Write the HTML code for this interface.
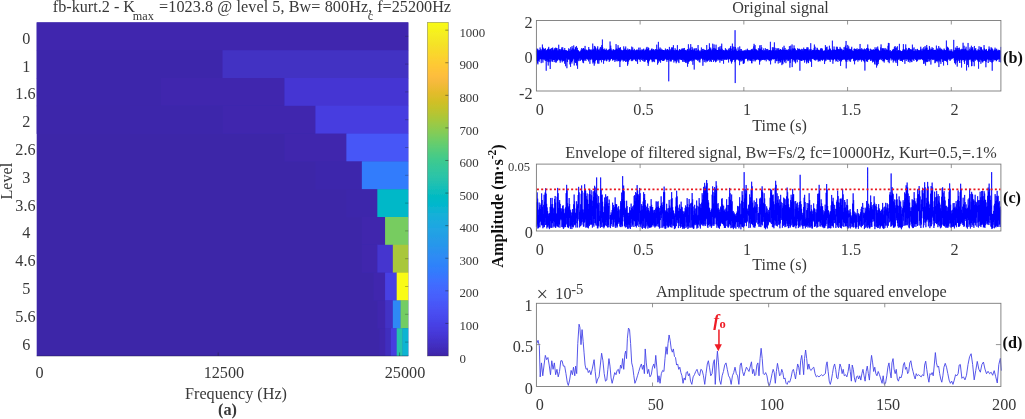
<!DOCTYPE html>
<html lang="en"><head><meta charset="utf-8"><title>Fast kurtogram and envelope analysis</title>
<style>
html,body{margin:0;padding:0;background:#fff;}
body{width:1025px;height:419px;overflow:hidden;font-family:"Liberation Serif", "DejaVu Serif", serif;}
svg{display:block;}
</style></head><body>
<svg width="1025" height="419" viewBox="0 0 1025 419">
<rect width="1025" height="419" fill="#ffffff"/>
<defs><filter id="soft" x="0" y="0" width="100%" height="100%" filterUnits="userSpaceOnUse" primitiveUnits="userSpaceOnUse"><feGaussianBlur stdDeviation="0.4"/></filter></defs>
<g filter="url(#soft)">
<rect width="1025" height="419" fill="#ffffff"/>
<g id="kurtogram">
<rect x="36.7" y="22.4" width="371.6" height="333.6" fill="#3e26a8"/>
<rect x="36.7" y="22.4" width="371.6" height="28.1" fill="#3f28ae"/>
<rect x="36.7" y="50.2" width="186.1" height="28.1" fill="#3e27ab"/>
<rect x="222.5" y="50.2" width="185.8" height="28.1" fill="#4230c3"/>
<rect x="36.7" y="78" width="124.17" height="28.1" fill="#3e27ab"/>
<rect x="160.57" y="78" width="124.17" height="28.1" fill="#3f28ae"/>
<rect x="284.43" y="78" width="123.87" height="28.1" fill="#4536d3"/>
<rect x="36.7" y="105.8" width="93.2" height="28.1" fill="#3e27aa"/>
<rect x="129.6" y="105.8" width="93.2" height="28.1" fill="#3e27ab"/>
<rect x="222.5" y="105.8" width="93.2" height="28.1" fill="#3f28ae"/>
<rect x="315.4" y="105.8" width="92.9" height="28.1" fill="#463de0"/>
<rect x="284.43" y="133.6" width="62.23" height="28.1" fill="#3f28ad"/>
<rect x="346.37" y="133.6" width="61.93" height="28.1" fill="#4757f7"/>
<rect x="315.4" y="161.4" width="46.75" height="28.1" fill="#3e27ac"/>
<rect x="361.85" y="161.4" width="46.45" height="28.1" fill="#327cfc"/>
<rect x="346.37" y="189.2" width="31.27" height="28.1" fill="#3e27ab"/>
<rect x="377.33" y="189.2" width="30.97" height="28.1" fill="#01b8c8"/>
<rect x="361.85" y="217" width="23.53" height="28.1" fill="#3f28ad"/>
<rect x="385.07" y="217" width="23.23" height="28.1" fill="#77cc60"/>
<rect x="361.85" y="244.8" width="15.78" height="28.1" fill="#3f28ad"/>
<rect x="377.33" y="244.8" width="15.78" height="28.1" fill="#4434cf"/>
<rect x="392.82" y="244.8" width="15.48" height="28.1" fill="#a9c73b"/>
<rect x="373.46" y="272.6" width="11.91" height="28.1" fill="#3f28ae"/>
<rect x="385.07" y="272.6" width="11.91" height="28.1" fill="#4740e4"/>
<rect x="396.69" y="272.6" width="11.61" height="28.1" fill="#f9fb15"/>
<rect x="377.33" y="300.4" width="8.04" height="28.1" fill="#3f28ae"/>
<rect x="385.07" y="300.4" width="8.04" height="28.1" fill="#4330c5"/>
<rect x="392.82" y="300.4" width="8.04" height="28.1" fill="#2d89f5"/>
<rect x="400.56" y="300.4" width="7.74" height="28.1" fill="#73cd63"/>
<rect x="379.27" y="328.2" width="6.11" height="27.8" fill="#3f28ae"/>
<rect x="385.07" y="328.2" width="6.11" height="27.8" fill="#412ebe"/>
<rect x="390.88" y="328.2" width="6.11" height="27.8" fill="#463de0"/>
<rect x="396.69" y="328.2" width="6.11" height="27.8" fill="#28c3ab"/>
<rect x="402.49" y="328.2" width="5.81" height="27.8" fill="#0bb4d2"/>
<line x1="405.1" y1="36.3" x2="408.3" y2="36.3" stroke="#222" stroke-opacity="0.4" stroke-width="0.8"/>
<line x1="405.1" y1="64.1" x2="408.3" y2="64.1" stroke="#222" stroke-opacity="0.4" stroke-width="0.8"/>
<line x1="405.1" y1="91.9" x2="408.3" y2="91.9" stroke="#222" stroke-opacity="0.4" stroke-width="0.8"/>
<line x1="405.1" y1="119.7" x2="408.3" y2="119.7" stroke="#222" stroke-opacity="0.4" stroke-width="0.8"/>
<line x1="405.1" y1="147.5" x2="408.3" y2="147.5" stroke="#222" stroke-opacity="0.4" stroke-width="0.8"/>
<line x1="405.1" y1="175.3" x2="408.3" y2="175.3" stroke="#222" stroke-opacity="0.4" stroke-width="0.8"/>
<line x1="405.1" y1="203.1" x2="408.3" y2="203.1" stroke="#222" stroke-opacity="0.4" stroke-width="0.8"/>
<line x1="405.1" y1="230.9" x2="408.3" y2="230.9" stroke="#222" stroke-opacity="0.4" stroke-width="0.8"/>
<line x1="405.1" y1="258.7" x2="408.3" y2="258.7" stroke="#222" stroke-opacity="0.4" stroke-width="0.8"/>
<line x1="405.1" y1="286.5" x2="408.3" y2="286.5" stroke="#222" stroke-opacity="0.4" stroke-width="0.8"/>
<line x1="405.1" y1="314.3" x2="408.3" y2="314.3" stroke="#222" stroke-opacity="0.4" stroke-width="0.8"/>
<line x1="405.1" y1="342.1" x2="408.3" y2="342.1" stroke="#222" stroke-opacity="0.4" stroke-width="0.8"/>
<line x1="218.15" y1="352.5" x2="218.15" y2="356" stroke="#222" stroke-opacity="0.55" stroke-width="0.8"/>
<line x1="399.59" y1="352.5" x2="399.59" y2="356" stroke="#222" stroke-opacity="0.55" stroke-width="0.8"/>
<line x1="36.7" y1="356" x2="408.3" y2="356" stroke="#1a1a40" stroke-opacity="0.5" stroke-width="0.9"/>
</g>
<g font-family='"Liberation Serif", "DejaVu Serif", serif' font-size="16.2" fill="#383838" text-anchor="middle">
<text x="26.2" y="43.8">0</text>
<text x="26.2" y="71.6">1</text>
<text x="25.4" y="99.4">1.6</text>
<text x="26.2" y="127.2">2</text>
<text x="25.4" y="155">2.6</text>
<text x="26.2" y="182.8">3</text>
<text x="25.4" y="210.6">3.6</text>
<text x="26.2" y="238.4">4</text>
<text x="25.4" y="266.2">4.6</text>
<text x="26.2" y="294">5</text>
<text x="25.4" y="321.8">5.6</text>
<text x="26.2" y="349.6">6</text>
<text x="39.6" y="378.3">0</text>
<text x="223.9" y="378.3">12500</text>
<text x="405" y="378.3">25000</text>
<text x="236" y="398.7">Frequency (Hz)</text>
<text x="227.5" y="414.8" font-weight="bold">(a)</text>
<text transform="translate(12.4,181.2) rotate(-90)">Level</text>
</g>
<text x="52.8" y="11.9" font-family='"Liberation Serif", "DejaVu Serif", serif' font-size="16.2" fill="#383838" xml:space="preserve">fb-kurt.2 - K<tspan font-size="12.2" dy="8" dx="-2.3">max</tspan><tspan dy="-8" dx="1.2" letter-spacing="0.07"> =1023.8 @ level 5, Bw= 800Hz,</tspan><tspan font-size="12.2" dx="-4.6" dy="8.3">c</tspan><tspan dy="-8.3" dx="0"> f=25200Hz</tspan></text>
<defs><linearGradient id="pg" x1="0" y1="1" x2="0" y2="0">
<stop offset="0.0000" stop-color="#3e26a8"/>
<stop offset="0.0159" stop-color="#402ab4"/>
<stop offset="0.0317" stop-color="#422ec0"/>
<stop offset="0.0476" stop-color="#4332cb"/>
<stop offset="0.0635" stop-color="#4537d5"/>
<stop offset="0.0794" stop-color="#463cde"/>
<stop offset="0.0952" stop-color="#4741e5"/>
<stop offset="0.1111" stop-color="#4747eb"/>
<stop offset="0.1270" stop-color="#484df0"/>
<stop offset="0.1429" stop-color="#4852f4"/>
<stop offset="0.1587" stop-color="#4758f8"/>
<stop offset="0.1746" stop-color="#465efb"/>
<stop offset="0.1905" stop-color="#4563fd"/>
<stop offset="0.2063" stop-color="#4269fe"/>
<stop offset="0.2222" stop-color="#3e6fff"/>
<stop offset="0.2381" stop-color="#3875fe"/>
<stop offset="0.2540" stop-color="#327cfc"/>
<stop offset="0.2698" stop-color="#2f81fa"/>
<stop offset="0.2857" stop-color="#2e87f7"/>
<stop offset="0.3016" stop-color="#2d8cf3"/>
<stop offset="0.3175" stop-color="#2b91ef"/>
<stop offset="0.3333" stop-color="#2797eb"/>
<stop offset="0.3492" stop-color="#259be8"/>
<stop offset="0.3651" stop-color="#23a0e5"/>
<stop offset="0.3810" stop-color="#20a5e3"/>
<stop offset="0.3968" stop-color="#1ca9df"/>
<stop offset="0.4127" stop-color="#18addb"/>
<stop offset="0.4286" stop-color="#12b1d6"/>
<stop offset="0.4444" stop-color="#08b5d0"/>
<stop offset="0.4603" stop-color="#01b8ca"/>
<stop offset="0.4762" stop-color="#02bac3"/>
<stop offset="0.4921" stop-color="#0bbdbd"/>
<stop offset="0.5079" stop-color="#19bfb6"/>
<stop offset="0.5238" stop-color="#24c1ae"/>
<stop offset="0.5397" stop-color="#2cc4a7"/>
<stop offset="0.5556" stop-color="#31c69f"/>
<stop offset="0.5714" stop-color="#37c897"/>
<stop offset="0.5873" stop-color="#3fca8e"/>
<stop offset="0.6032" stop-color="#4acb84"/>
<stop offset="0.6190" stop-color="#57cc7a"/>
<stop offset="0.6349" stop-color="#64cd6f"/>
<stop offset="0.6508" stop-color="#72cd64"/>
<stop offset="0.6667" stop-color="#81cc59"/>
<stop offset="0.6825" stop-color="#8fcb4e"/>
<stop offset="0.6984" stop-color="#9dc943"/>
<stop offset="0.7143" stop-color="#abc739"/>
<stop offset="0.7302" stop-color="#b9c431"/>
<stop offset="0.7460" stop-color="#c5c22a"/>
<stop offset="0.7619" stop-color="#d1bf27"/>
<stop offset="0.7778" stop-color="#dcbd29"/>
<stop offset="0.7937" stop-color="#e6bb2d"/>
<stop offset="0.8095" stop-color="#f0ba36"/>
<stop offset="0.8254" stop-color="#f8ba3d"/>
<stop offset="0.8413" stop-color="#febe3c"/>
<stop offset="0.8571" stop-color="#fec338"/>
<stop offset="0.8730" stop-color="#fec934"/>
<stop offset="0.8889" stop-color="#fccf30"/>
<stop offset="0.9048" stop-color="#fad62d"/>
<stop offset="0.9206" stop-color="#f7dc2a"/>
<stop offset="0.9365" stop-color="#f5e327"/>
<stop offset="0.9524" stop-color="#f5e924"/>
<stop offset="0.9683" stop-color="#f6ef20"/>
<stop offset="0.9841" stop-color="#f7f51b"/>
<stop offset="1.0000" stop-color="#f9fb15"/>
</linearGradient></defs>
<rect x="427.4" y="22.4" width="20.9" height="333.6" fill="url(#pg)" stroke="#333" stroke-opacity="0.45" stroke-width="0.7"/>
<g font-family='"Liberation Serif", "DejaVu Serif", serif' font-size="12.9" fill="#383838">
<text x="459.4" y="362.6">0</text>
<line x1="445.3" y1="323.42" x2="448.3" y2="323.42" stroke="#222" stroke-opacity="0.6" stroke-width="0.8"/>
<text x="459.4" y="330.02">100</text>
<line x1="445.3" y1="290.83" x2="448.3" y2="290.83" stroke="#222" stroke-opacity="0.6" stroke-width="0.8"/>
<text x="459.4" y="297.43">200</text>
<line x1="445.3" y1="258.25" x2="448.3" y2="258.25" stroke="#222" stroke-opacity="0.6" stroke-width="0.8"/>
<text x="459.4" y="264.85">300</text>
<line x1="445.3" y1="225.66" x2="448.3" y2="225.66" stroke="#222" stroke-opacity="0.6" stroke-width="0.8"/>
<text x="459.4" y="232.26">400</text>
<line x1="445.3" y1="193.08" x2="448.3" y2="193.08" stroke="#222" stroke-opacity="0.6" stroke-width="0.8"/>
<text x="459.4" y="199.68">500</text>
<line x1="445.3" y1="160.49" x2="448.3" y2="160.49" stroke="#222" stroke-opacity="0.6" stroke-width="0.8"/>
<text x="459.4" y="167.09">600</text>
<line x1="445.3" y1="127.91" x2="448.3" y2="127.91" stroke="#222" stroke-opacity="0.6" stroke-width="0.8"/>
<text x="459.4" y="134.51">700</text>
<line x1="445.3" y1="95.32" x2="448.3" y2="95.32" stroke="#222" stroke-opacity="0.6" stroke-width="0.8"/>
<text x="459.4" y="101.92">800</text>
<line x1="445.3" y1="62.74" x2="448.3" y2="62.74" stroke="#222" stroke-opacity="0.6" stroke-width="0.8"/>
<text x="459.4" y="69.34">900</text>
<line x1="445.3" y1="30.16" x2="448.3" y2="30.16" stroke="#222" stroke-opacity="0.6" stroke-width="0.8"/>
<text x="459.4" y="36.76">1000</text>
</g>
<text transform="translate(502.5,206) rotate(-90)" text-anchor="middle" font-family='"Liberation Serif", "DejaVu Serif", serif' font-size="16.2" font-weight="bold" fill="#111">Amplitude (m·s<tspan font-size="11.5" dy="-6.5">-2</tspan><tspan dy="6.5">)</tspan></text>
<g id="panel-b">
<polyline points="536.40,50.69 536.57,60.52 536.73,48.50 536.90,61.53 537.07,49.63 537.23,58.84 537.40,50.84 537.57,63.24 537.73,48.75 537.90,64.37 538.07,49.75 538.23,60.93 538.40,50.93 538.57,60.34 538.73,50.52 538.90,59.59 539.07,50.94 539.23,61.75 539.40,50.13 539.57,59.35 539.73,50.39 539.90,58.52 540.07,47.51 540.23,59.22 540.40,50.85 540.57,58.83 540.73,49.15 540.90,59.01 541.07,51.12 541.23,63.15 541.40,50.71 541.57,58.51 541.73,49.61 541.90,60.28 542.07,50.77 542.23,58.70 542.40,44.54 542.57,58.80 542.73,47.04 542.90,62.63 543.07,50.74 543.23,58.84 543.40,48.32 543.57,59.36 543.73,50.07 543.90,58.93 544.07,49.15 544.23,60.03 544.40,48.97 544.57,58.50 544.73,51.12 544.90,58.24 545.07,48.80 545.23,60.77 545.40,48.22 545.57,58.89 545.73,51.00 545.90,60.98 546.07,50.47 546.23,70.73 546.40,50.36 546.57,59.50 546.73,50.87 546.90,61.09 547.07,50.24 547.23,59.16 547.40,48.95 547.57,60.11 547.73,49.92 547.90,61.95 548.07,49.80 548.23,65.55 548.40,48.27 548.57,61.00 548.73,46.88 548.90,61.01 549.07,50.20 549.23,62.23 549.40,49.64 549.57,58.78 549.73,51.00 549.90,58.65 550.07,48.95 550.23,69.03 550.40,48.83 550.57,58.44 550.73,50.15 550.90,61.84 551.07,50.44 551.23,58.39 551.40,50.91 551.57,58.90 551.73,48.25 551.90,60.55 552.07,47.99 552.23,60.47 552.40,50.08 552.57,61.83 552.73,47.55 552.90,59.73 553.07,49.42 553.23,59.46 553.40,50.51 553.57,59.93 553.73,50.75 553.90,59.94 554.07,50.68 554.23,62.07 554.40,49.50 554.57,59.66 554.73,48.15 554.90,59.73 555.07,49.98 555.23,59.07 555.40,49.58 555.57,62.49 555.73,47.60 555.90,58.92 556.07,48.25 556.23,60.83 556.40,47.99 556.57,62.41 556.73,49.42 556.90,59.89 557.07,48.20 557.23,60.62 557.40,50.72 557.57,60.36 557.73,50.80 557.90,60.15 558.07,50.54 558.23,58.79 558.40,50.80 558.57,58.33 558.73,44.74 558.90,59.42 559.07,50.65 559.23,59.53 559.40,49.05 559.57,59.84 559.73,50.41 559.90,60.52 560.07,49.48 560.23,62.69 560.40,50.79 560.57,60.44 560.73,49.45 560.90,61.00 561.07,50.70 561.23,59.57 561.40,50.44 561.57,59.75 561.73,47.44 561.90,59.07 562.07,49.18 562.23,62.29 562.40,49.75 562.57,59.76 562.73,47.23 562.90,60.93 563.07,50.62 563.23,61.19 563.40,50.55 563.57,58.95 563.73,49.78 563.90,60.93 564.07,50.60 564.23,60.41 564.40,49.98 564.57,63.67 564.73,48.00 564.90,58.72 565.07,51.29 565.23,60.24 565.40,50.21 565.57,66.22 565.73,50.11 565.90,61.67 566.07,50.81 566.23,57.81 566.40,50.25 566.57,58.12 566.73,51.11 566.90,68.23 567.07,50.92 567.23,58.89 567.40,50.92 567.57,62.02 567.73,51.58 567.90,58.92 568.07,51.31 568.23,58.71 568.40,49.85 568.57,58.89 568.73,48.29 568.90,60.00 569.07,51.14 569.23,58.78 569.40,51.16 569.57,59.22 569.73,49.20 569.90,64.38 570.07,51.54 570.23,60.49 570.40,51.21 570.57,66.82 570.73,47.16 570.90,59.18 571.07,49.81 571.23,61.93 571.40,50.51 571.57,62.03 571.73,49.69 571.90,63.53 572.07,46.12 572.23,59.99 572.40,50.42 572.57,61.19 572.73,48.30 572.90,58.31 573.07,48.82 573.23,58.88 573.40,50.11 573.57,58.30 573.73,45.40 573.90,59.50 574.07,49.38 574.23,65.45 574.40,49.57 574.57,59.39 574.73,50.30 574.90,62.19 575.07,50.23 575.23,59.22 575.40,47.39 575.57,63.04 575.73,47.43 575.90,59.41 576.07,50.90 576.23,62.59 576.40,45.99 576.57,65.48 576.73,50.03 576.90,58.85 577.07,50.52 577.23,59.63 577.40,47.83 577.57,68.81 577.73,50.37 577.90,59.26 578.07,50.60 578.23,60.57 578.40,50.48 578.57,58.67 578.73,50.95 578.90,61.19 579.07,51.26 579.23,59.37 579.40,52.01 579.57,57.73 579.73,52.05 579.90,57.86 580.07,51.82 580.23,60.97 580.40,51.89 580.57,58.08 580.73,50.99 580.90,60.06 581.07,49.68 581.23,59.64 581.40,50.49 581.57,59.05 581.73,48.07 581.90,58.80 582.07,50.36 582.23,59.36 582.40,49.17 582.57,61.01 582.73,50.30 582.90,62.58 583.07,48.70 583.23,59.18 583.40,48.06 583.57,63.16 583.73,48.42 583.90,60.44 584.07,50.90 584.23,60.61 584.40,50.16 584.57,59.02 584.73,49.24 584.90,58.67 585.07,45.90 585.23,60.15 585.40,50.38 585.57,58.98 585.73,50.92 585.90,60.91 586.07,49.59 586.23,58.67 586.40,49.90 586.57,57.98 586.73,50.78 586.90,58.88 587.07,50.35 587.23,58.77 587.40,51.46 587.57,58.55 587.73,51.08 587.90,59.92 588.07,49.96 588.23,58.68 588.40,49.54 588.57,61.35 588.73,47.03 588.90,58.66 589.07,51.49 589.23,59.61 589.40,49.50 589.57,58.57 589.73,49.58 589.90,63.84 590.07,50.61 590.23,59.35 590.40,49.71 590.57,59.79 590.73,49.91 590.90,58.67 591.07,51.03 591.23,58.55 591.40,50.93 591.57,58.36 591.73,49.52 591.90,59.27 592.07,50.67 592.23,60.16 592.40,50.20 592.57,59.12 592.73,43.59 592.90,63.48 593.07,50.26 593.23,62.01 593.40,49.69 593.57,59.72 593.73,49.60 593.90,62.44 594.07,48.59 594.23,65.67 594.40,45.95 594.57,61.48 594.73,51.41 594.90,63.54 595.07,50.14 595.23,58.89 595.40,46.65 595.57,60.84 595.73,48.37 595.90,59.65 596.07,48.85 596.23,60.05 596.40,50.97 596.57,59.15 596.73,50.62 596.90,59.80 597.07,50.32 597.23,59.37 597.40,47.80 597.57,62.68 597.73,46.30 597.90,63.78 598.07,49.31 598.23,59.76 598.40,49.90 598.57,59.33 598.73,50.31 598.90,63.67 599.07,50.30 599.23,60.42 599.40,50.84 599.57,59.48 599.73,48.61 599.90,60.02 600.07,51.34 600.23,59.28 600.40,46.95 600.57,60.22 600.73,50.71 600.90,59.68 601.07,47.68 601.23,59.58 601.40,50.50 601.57,62.31 601.73,45.17 601.90,59.00 602.07,48.77 602.23,59.06 602.40,39.53 602.57,59.81 602.73,47.42 602.90,59.97 603.07,49.48 603.23,59.90 603.40,49.33 603.57,63.69 603.73,49.82 603.90,59.48 604.07,49.96 604.23,58.78 604.40,50.25 604.57,60.33 604.73,48.57 604.90,60.52 605.07,49.78 605.23,59.34 605.40,50.36 605.57,58.93 605.73,50.14 605.90,58.85 606.07,51.43 606.23,60.49 606.40,48.75 606.57,61.27 606.73,51.51 606.90,60.70 607.07,49.98 607.23,58.61 607.40,50.75 607.57,59.11 607.73,51.06 607.90,59.47 608.07,50.45 608.23,59.36 608.40,49.57 608.57,59.13 608.73,50.44 608.90,59.47 609.07,50.02 609.23,61.92 609.40,49.23 609.57,59.55 609.73,48.88 609.90,60.94 610.07,41.50 610.23,59.05 610.40,49.22 610.57,59.74 610.73,45.63 610.90,58.30 611.07,48.53 611.23,58.39 611.40,50.26 611.57,58.90 611.73,50.58 611.90,58.53 612.07,51.27 612.23,58.81 612.40,51.08 612.57,60.48 612.73,50.50 612.90,60.30 613.07,49.39 613.23,59.45 613.40,50.22 613.57,59.12 613.73,49.26 613.90,59.67 614.07,50.60 614.23,59.23 614.40,50.39 614.57,59.59 614.73,50.25 614.90,61.97 615.07,50.83 615.23,59.85 615.40,50.28 615.57,58.99 615.73,49.59 615.90,60.67 616.07,44.09 616.23,58.80 616.40,48.63 616.57,59.06 616.73,51.05 616.90,61.28 617.07,48.79 617.23,59.37 617.40,49.54 617.57,59.36 617.73,49.51 617.90,61.26 618.07,45.20 618.23,59.70 618.40,47.84 618.57,61.02 618.73,50.20 618.90,60.74 619.07,49.64 619.23,59.79 619.40,47.95 619.57,60.52 619.73,48.63 619.90,67.06 620.07,47.87 620.23,61.78 620.40,47.15 620.57,60.98 620.73,51.03 620.90,59.28 621.07,50.60 621.23,59.09 621.40,49.76 621.57,59.29 621.73,50.73 621.90,60.45 622.07,50.80 622.23,59.34 622.40,50.29 622.57,59.61 622.73,51.10 622.90,58.94 623.07,50.96 623.23,61.50 623.40,50.09 623.57,60.29 623.73,46.38 623.90,59.62 624.07,50.17 624.23,59.64 624.40,49.43 624.57,60.91 624.73,50.43 624.90,59.44 625.07,48.34 625.23,59.22 625.40,50.82 625.57,61.96 625.73,46.52 625.90,59.26 626.07,49.70 626.23,58.67 626.40,50.15 626.57,61.52 626.73,50.85 626.90,59.41 627.07,50.03 627.23,60.50 627.40,50.74 627.57,65.75 627.73,48.57 627.90,64.29 628.07,50.56 628.23,59.41 628.40,50.60 628.57,61.61 628.73,50.03 628.90,59.50 629.07,49.14 629.23,60.29 629.40,50.89 629.57,59.56 629.73,49.21 629.90,59.21 630.07,50.30 630.23,58.81 630.40,50.95 630.57,58.89 630.73,50.62 630.90,58.96 631.07,49.54 631.23,60.62 631.40,50.55 631.57,59.09 631.73,46.62 631.90,61.20 632.07,50.47 632.23,60.39 632.40,50.42 632.57,60.19 632.73,47.38 632.90,60.37 633.07,49.84 633.23,59.34 633.40,50.30 633.57,59.11 633.73,50.70 633.90,59.18 634.07,50.94 634.23,58.84 634.40,48.90 634.57,59.39 634.73,50.24 634.90,58.57 635.07,50.85 635.23,59.83 635.40,50.62 635.57,60.98 635.73,50.99 635.90,58.86 636.07,50.38 636.23,61.41 636.40,50.00 636.57,58.73 636.73,49.56 636.90,58.79 637.07,50.91 637.23,61.20 637.40,50.35 637.57,63.86 637.73,49.69 637.90,59.01 638.07,51.28 638.23,59.19 638.40,49.97 638.57,58.88 638.73,47.68 638.90,58.89 639.07,50.43 639.23,59.90 639.40,51.04 639.57,59.00 639.73,50.39 639.90,59.61 640.07,47.58 640.23,61.72 640.40,50.18 640.57,58.65 640.73,50.83 640.90,58.64 641.07,50.94 641.23,58.11 641.40,51.47 641.57,59.99 641.73,49.55 641.90,58.20 642.07,50.40 642.23,58.49 642.40,49.75 642.57,60.73 642.73,49.85 642.90,58.74 643.07,51.32 643.23,59.42 643.40,49.40 643.57,58.97 643.73,48.67 643.90,61.18 644.07,50.89 644.23,61.86 644.40,51.21 644.57,59.88 644.73,50.68 644.90,58.78 645.07,49.76 645.23,61.46 645.40,50.76 645.57,59.83 645.73,49.56 645.90,58.97 646.07,50.27 646.23,59.25 646.40,47.69 646.57,59.98 646.73,50.45 646.90,59.70 647.07,46.88 647.23,59.93 647.40,49.44 647.57,62.63 647.73,49.43 647.90,60.21 648.07,49.17 648.23,65.86 648.40,47.59 648.57,63.51 648.73,48.01 648.90,60.01 649.07,50.61 649.23,61.23 649.40,51.45 649.57,59.95 649.73,50.46 649.90,58.71 650.07,51.70 650.23,59.29 650.40,50.35 650.57,58.91 650.73,51.25 650.90,59.04 651.07,50.34 651.23,59.88 651.40,49.07 651.57,58.91 651.73,48.72 651.90,60.34 652.07,48.68 652.23,62.16 652.40,50.33 652.57,61.07 652.73,50.79 652.90,61.31 653.07,50.01 653.23,59.17 653.40,49.83 653.57,61.46 653.73,48.99 653.90,58.46 654.07,51.48 654.23,59.39 654.40,51.39 654.57,62.12 654.73,49.98 654.90,58.03 655.07,50.50 655.23,58.20 655.40,51.61 655.57,59.02 655.73,49.02 655.90,59.33 656.07,49.45 656.23,59.29 656.40,51.06 656.57,58.97 656.73,44.69 656.90,58.74 657.07,50.12 657.23,59.11 657.40,49.47 657.57,64.65 657.73,50.57 657.90,60.51 658.07,51.02 658.23,63.16 658.40,41.86 658.57,60.06 658.73,50.30 658.90,59.19 659.07,50.53 659.23,61.52 659.40,48.91 659.57,59.83 659.73,50.36 659.90,60.83 660.07,47.53 660.23,59.86 660.40,49.95 660.57,62.69 660.73,49.99 660.90,60.05 661.07,48.62 661.23,59.94 661.40,50.04 661.57,59.51 661.73,50.65 661.90,60.27 662.07,49.40 662.23,58.95 662.40,50.36 662.57,60.95 662.73,50.43 662.90,59.07 663.07,50.03 663.23,60.61 663.40,50.18 663.57,60.63 663.73,50.21 663.90,60.97 664.07,50.36 664.23,60.00 664.40,50.53 664.57,59.09 664.73,50.83 664.90,59.79 665.07,50.84 665.23,58.57 665.40,48.56 665.57,58.62 665.73,49.70 665.90,58.70 666.07,50.71 666.23,58.57 666.40,50.34 666.57,59.90 666.73,50.49 666.90,61.81 667.07,49.44 667.23,59.55 667.40,48.99 667.57,59.19 667.73,49.39 667.90,59.96 668.07,50.14 668.23,60.09 668.40,49.92 668.57,59.91 668.73,81.31 668.90,63.46 669.07,50.85 669.23,59.11 669.40,46.92 669.57,58.91 669.73,51.13 669.90,60.48 670.07,50.37 670.23,61.45 670.40,49.75 670.57,60.18 670.73,51.10 670.90,60.98 671.07,48.82 671.23,61.51 671.40,50.15 671.57,58.78 671.73,47.64 671.90,59.84 672.07,47.30 672.23,58.71 672.40,47.83 672.57,59.17 672.73,50.66 672.90,59.65 673.07,50.33 673.23,60.01 673.40,45.16 673.57,58.81 673.73,50.54 673.90,62.49 674.07,50.06 674.23,60.50 674.40,50.53 674.57,59.81 674.73,50.90 674.90,60.39 675.07,48.22 675.23,61.32 675.40,51.12 675.57,60.76 675.73,49.64 675.90,60.12 676.07,50.38 676.23,63.28 676.40,50.10 676.57,61.90 676.73,50.63 676.90,59.78 677.07,49.78 677.23,59.28 677.40,45.15 677.57,60.41 677.73,50.13 677.90,58.48 678.07,50.34 678.23,61.84 678.40,51.10 678.57,59.55 678.73,51.16 678.90,63.09 679.07,51.31 679.23,58.59 679.40,49.52 679.57,59.21 679.73,49.03 679.90,59.03 680.07,50.03 680.23,59.78 680.40,50.79 680.57,59.00 680.73,50.10 680.90,59.52 681.07,50.17 681.23,59.27 681.40,49.33 681.57,60.00 681.73,50.36 681.90,60.11 682.07,48.36 682.23,59.14 682.40,49.61 682.57,61.75 682.73,48.72 682.90,59.45 683.07,49.79 683.23,59.41 683.40,49.32 683.57,59.32 683.73,48.30 683.90,61.71 684.07,50.37 684.23,61.87 684.40,47.97 684.57,59.46 684.73,50.73 684.90,59.58 685.07,50.75 685.23,60.02 685.40,50.63 685.57,62.60 685.73,49.88 685.90,62.47 686.07,50.66 686.23,61.41 686.40,50.85 686.57,59.09 686.73,50.85 686.90,63.10 687.07,50.46 687.23,59.20 687.40,49.17 687.57,66.71 687.73,49.40 687.90,59.24 688.07,50.70 688.23,63.74 688.40,44.27 688.57,61.67 688.73,50.42 688.90,58.81 689.07,50.94 689.23,61.64 689.40,51.12 689.57,60.84 689.73,49.13 689.90,59.86 690.07,47.80 690.23,58.75 690.40,49.72 690.57,60.78 690.73,44.13 690.90,60.30 691.07,50.46 691.23,59.84 691.40,50.35 691.57,59.84 691.73,49.99 691.90,61.44 692.07,46.90 692.23,60.55 692.40,50.08 692.57,59.01 692.73,48.58 692.90,64.75 693.07,51.05 693.23,59.74 693.40,50.56 693.57,60.39 693.73,50.02 693.90,60.44 694.07,48.67 694.23,69.56 694.40,49.95 694.57,59.20 694.73,49.08 694.90,58.99 695.07,48.13 695.23,59.45 695.40,50.89 695.57,59.12 695.73,51.18 695.90,58.93 696.07,51.06 696.23,59.57 696.40,48.21 696.57,59.57 696.73,51.05 696.90,59.34 697.07,51.39 697.23,58.60 697.40,50.54 697.57,60.23 697.73,50.55 697.90,60.79 698.07,45.04 698.23,58.92 698.40,49.39 698.57,59.85 698.73,50.78 698.90,59.33 699.07,50.40 699.23,62.12 699.40,51.43 699.57,58.60 699.73,51.88 699.90,62.46 700.07,51.31 700.23,59.64 700.40,51.66 700.57,58.64 700.73,51.75 700.90,57.91 701.07,49.93 701.23,58.44 701.40,47.50 701.57,57.90 701.73,51.32 701.90,58.72 702.07,50.77 702.23,58.32 702.40,51.27 702.57,60.28 702.73,49.06 702.90,65.76 703.07,48.89 703.23,58.55 703.40,50.76 703.57,59.02 703.73,51.15 703.90,59.78 704.07,49.62 704.23,62.07 704.40,50.60 704.57,59.82 704.73,49.84 704.90,59.82 705.07,50.25 705.23,60.50 705.40,50.13 705.57,59.18 705.73,51.21 705.90,62.45 706.07,50.08 706.23,59.27 706.40,50.81 706.57,59.67 706.73,45.05 706.90,61.05 707.07,50.15 707.23,61.69 707.40,50.27 707.57,60.37 707.73,50.00 707.90,60.96 708.07,49.55 708.23,60.07 708.40,50.01 708.57,59.77 708.73,49.31 708.90,60.28 709.07,49.69 709.23,59.46 709.40,43.33 709.57,59.40 709.73,47.38 709.90,61.99 710.07,51.34 710.23,60.12 710.40,48.94 710.57,60.87 710.73,47.73 710.90,59.02 711.07,50.62 711.23,58.76 711.40,51.19 711.57,62.00 711.73,49.66 711.90,59.19 712.07,50.89 712.23,58.59 712.40,49.33 712.57,59.77 712.73,43.70 712.90,59.96 713.07,49.40 713.23,58.89 713.40,48.13 713.57,61.99 713.73,50.31 713.90,58.90 714.07,44.42 714.23,60.40 714.40,50.14 714.57,60.18 714.73,48.12 714.90,59.64 715.07,49.22 715.23,60.66 715.40,50.54 715.57,62.22 715.73,48.74 715.90,60.52 716.07,44.69 716.23,61.64 716.40,49.90 716.57,60.23 716.73,50.54 716.90,59.17 717.07,50.49 717.23,58.73 717.40,50.21 717.57,58.81 717.73,50.19 717.90,60.61 718.07,50.49 718.23,59.64 718.40,47.29 718.57,59.21 718.73,49.71 718.90,58.95 719.07,50.24 719.23,59.96 719.40,50.54 719.57,59.32 719.73,46.64 719.90,62.61 720.07,48.71 720.23,59.31 720.40,49.95 720.57,59.38 720.73,50.65 720.90,59.85 721.07,45.94 721.23,61.01 721.40,50.19 721.57,59.43 721.73,43.67 721.90,59.16 722.07,48.79 722.23,60.76 722.40,49.89 722.57,59.17 722.73,51.26 722.90,58.75 723.07,51.48 723.23,58.70 723.40,49.95 723.57,63.73 723.73,50.35 723.90,58.64 724.07,50.54 724.23,58.51 724.40,51.21 724.57,59.74 724.73,50.58 724.90,59.11 725.07,50.92 725.23,59.86 725.40,48.16 725.57,58.68 725.73,49.86 725.90,58.80 726.07,49.25 726.23,59.54 726.40,50.00 726.57,59.42 726.73,50.22 726.90,59.90 727.07,50.79 727.23,58.50 727.40,50.30 727.57,58.50 727.73,51.28 727.90,58.32 728.07,51.15 728.23,59.26 728.40,48.70 728.57,62.48 728.73,50.56 728.90,59.25 729.07,49.93 729.23,59.08 729.40,50.20 729.57,58.87 729.73,48.22 729.90,58.78 730.07,50.75 730.23,59.35 730.40,47.34 730.57,60.88 730.73,45.96 730.90,58.94 731.07,51.14 731.23,62.11 731.40,51.13 731.57,63.49 731.73,48.67 731.90,58.69 732.07,50.64 732.23,61.76 732.40,43.64 732.57,60.42 732.73,50.47 732.90,59.48 733.07,46.66 733.23,59.39 733.40,50.41 733.57,59.76 733.73,50.72 733.90,59.22 734.07,46.81 734.23,60.07 734.40,50.42 734.57,59.10 734.73,49.67 734.90,62.19 735.07,30.19 735.23,83.07 735.40,47.04 735.57,60.88 735.73,49.89 735.90,58.77 736.07,48.65 736.23,59.69 736.40,50.62 736.57,59.08 736.73,50.93 736.90,59.19 737.07,51.11 737.23,59.30 737.40,51.11 737.57,59.36 737.73,51.19 737.90,59.16 738.07,47.39 738.23,58.40 738.40,50.86 738.57,59.84 738.73,49.64 738.90,60.51 739.07,50.33 739.23,60.45 739.40,50.54 739.57,65.18 739.73,46.43 739.90,59.63 740.07,51.20 740.23,59.74 740.40,51.41 740.57,59.60 740.73,49.16 740.90,61.61 741.07,51.33 741.23,60.82 741.40,49.11 741.57,59.15 741.73,51.61 741.90,58.84 742.07,51.62 742.23,60.52 742.40,50.62 742.57,60.22 742.73,51.31 742.90,58.54 743.07,51.33 743.23,63.77 743.40,50.61 743.57,63.67 743.73,50.93 743.90,61.56 744.07,51.20 744.23,63.25 744.40,50.52 744.57,58.97 744.73,50.55 744.90,59.31 745.07,50.75 745.23,58.48 745.40,50.52 745.57,58.70 745.73,50.98 745.90,58.59 746.07,49.60 746.23,58.44 746.40,51.92 746.57,58.18 746.73,50.98 746.90,58.76 747.07,50.17 747.23,58.44 747.40,48.73 747.57,60.22 747.73,49.78 747.90,61.28 748.07,50.36 748.23,59.83 748.40,50.30 748.57,59.13 748.73,50.74 748.90,59.12 749.07,51.09 749.23,59.22 749.40,50.24 749.57,59.50 749.73,51.42 749.90,60.79 750.07,49.95 750.23,59.64 750.40,51.40 750.57,60.38 750.73,50.18 750.90,60.84 751.07,50.58 751.23,59.24 751.40,49.10 751.57,63.09 751.73,50.12 751.90,63.31 752.07,50.80 752.23,60.76 752.40,48.76 752.57,58.61 752.73,49.99 752.90,58.78 753.07,51.27 753.23,59.34 753.40,50.84 753.57,58.92 753.73,46.45 753.90,61.25 754.07,43.83 754.23,59.12 754.40,49.43 754.57,59.57 754.73,48.66 754.90,59.47 755.07,45.10 755.23,61.37 755.40,49.77 755.57,60.07 755.73,49.14 755.90,60.13 756.07,49.82 756.23,59.09 756.40,49.60 756.57,59.66 756.73,49.98 756.90,58.49 757.07,50.07 757.23,59.38 757.40,51.53 757.57,59.32 757.73,51.14 757.90,58.79 758.07,51.43 758.23,58.04 758.40,48.28 758.57,60.08 758.73,50.96 758.90,58.97 759.07,50.77 759.23,59.34 759.40,48.75 759.57,64.55 759.73,45.37 759.90,61.87 760.07,50.39 760.23,59.50 760.40,49.16 760.57,59.83 760.73,48.68 760.90,60.93 761.07,45.04 761.23,59.52 761.40,50.12 761.57,59.81 761.73,47.35 761.90,59.40 762.07,49.91 762.23,59.59 762.40,50.38 762.57,59.85 762.73,50.74 762.90,59.35 763.07,51.07 763.23,59.23 763.40,50.81 763.57,59.77 763.73,48.46 763.90,58.80 764.07,51.13 764.23,59.11 764.40,50.51 764.57,60.19 764.73,50.43 764.90,59.53 765.07,50.74 765.23,59.04 765.40,48.21 765.57,59.75 765.73,50.91 765.90,59.08 766.07,50.61 766.23,61.33 766.40,49.26 766.57,58.64 766.73,50.69 766.90,59.00 767.07,49.05 767.23,59.06 767.40,51.11 767.57,59.62 767.73,48.94 767.90,59.00 768.07,50.77 768.23,58.43 768.40,50.61 768.57,59.90 768.73,51.10 768.90,59.74 769.07,50.08 769.23,61.15 769.40,50.06 769.57,60.57 769.73,50.28 769.90,59.86 770.07,50.62 770.23,59.20 770.40,41.82 770.57,64.37 770.73,50.20 770.90,59.74 771.07,50.76 771.23,58.60 771.40,51.33 771.57,60.43 771.73,51.27 771.90,59.63 772.07,50.20 772.23,58.52 772.40,47.28 772.57,58.83 772.73,50.07 772.90,58.99 773.07,49.92 773.23,58.80 773.40,47.38 773.57,59.28 773.73,50.50 773.90,59.33 774.07,50.34 774.23,58.98 774.40,42.39 774.57,59.02 774.73,51.17 774.90,58.38 775.07,47.82 775.23,63.21 775.40,51.20 775.57,59.20 775.73,50.06 775.90,60.77 776.07,50.58 776.23,58.93 776.40,51.29 776.57,61.17 776.73,48.36 776.90,58.31 777.07,50.20 777.23,60.85 777.40,51.60 777.57,58.41 777.73,48.39 777.90,58.28 778.07,49.54 778.23,63.54 778.40,51.38 778.57,60.96 778.73,48.23 778.90,60.83 779.07,50.11 779.23,60.62 779.40,50.23 779.57,60.08 779.73,50.22 779.90,62.86 780.07,49.57 780.23,60.70 780.40,48.99 780.57,62.08 780.73,49.65 780.90,59.54 781.07,49.72 781.23,60.07 781.40,50.09 781.57,59.68 781.73,50.53 781.90,65.13 782.07,49.99 782.23,61.83 782.40,49.92 782.57,63.22 782.73,47.37 782.90,64.15 783.07,49.55 783.23,59.43 783.40,49.77 783.57,59.52 783.73,50.65 783.90,60.52 784.07,45.77 784.23,59.46 784.40,50.88 784.57,62.26 784.73,49.86 784.90,59.72 785.07,47.95 785.23,60.87 785.40,50.04 785.57,58.77 785.73,50.07 785.90,63.17 786.07,50.44 786.23,59.27 786.40,49.82 786.57,58.69 786.73,49.88 786.90,60.03 787.07,49.77 787.23,59.21 787.40,50.32 787.57,59.27 787.73,50.71 787.90,61.17 788.07,51.02 788.23,58.52 788.40,49.36 788.57,60.58 788.73,51.20 788.90,60.24 789.07,49.47 789.23,59.37 789.40,46.13 789.57,59.51 789.73,51.22 789.90,67.64 790.07,49.68 790.23,62.92 790.40,50.36 790.57,59.55 790.73,45.68 790.90,58.96 791.07,49.34 791.23,59.01 791.40,51.06 791.57,58.74 791.73,50.56 791.90,58.79 792.07,44.45 792.23,67.10 792.40,48.44 792.57,58.96 792.73,50.66 792.90,61.50 793.07,51.01 793.23,60.04 793.40,49.23 793.57,59.33 793.73,48.55 793.90,59.24 794.07,45.42 794.23,58.98 794.40,48.01 794.57,61.45 794.73,49.23 794.90,60.12 795.07,50.53 795.23,62.27 795.40,48.70 795.57,63.34 795.73,51.30 795.90,58.69 796.07,50.10 796.23,60.16 796.40,50.94 796.57,58.46 796.73,50.60 796.90,58.99 797.07,50.35 797.23,62.18 797.40,51.34 797.57,58.67 797.73,48.18 797.90,58.30 798.07,49.25 798.23,59.37 798.40,50.42 798.57,59.57 798.73,49.03 798.90,59.14 799.07,50.70 799.23,59.46 799.40,48.76 799.57,59.98 799.73,49.44 799.90,70.73 800.07,49.78 800.23,59.80 800.40,50.31 800.57,60.25 800.73,49.93 800.90,60.78 801.07,49.76 801.23,59.58 801.40,51.07 801.57,60.98 801.73,48.84 801.90,60.84 802.07,49.95 802.23,60.18 802.40,51.39 802.57,58.53 802.73,49.11 802.90,58.77 803.07,50.55 803.23,60.33 803.40,51.37 803.57,59.95 803.73,47.65 803.90,58.57 804.07,49.69 804.23,59.76 804.40,49.71 804.57,62.57 804.73,49.24 804.90,59.17 805.07,49.26 805.23,59.80 805.40,49.09 805.57,59.29 805.73,50.40 805.90,59.63 806.07,49.84 806.23,61.45 806.40,49.49 806.57,63.49 806.73,48.54 806.90,60.37 807.07,47.04 807.23,61.81 807.40,49.81 807.57,59.88 807.73,48.76 807.90,58.97 808.07,47.44 808.23,63.13 808.40,49.90 808.57,62.80 808.73,51.49 808.90,60.94 809.07,51.35 809.23,59.67 809.40,51.22 809.57,59.16 809.73,49.49 809.90,58.59 810.07,49.71 810.23,60.57 810.40,49.60 810.57,61.69 810.73,43.22 810.90,58.94 811.07,49.19 811.23,58.72 811.40,51.35 811.57,66.88 811.73,51.28 811.90,59.10 812.07,50.22 812.23,58.57 812.40,49.90 812.57,58.78 812.73,51.42 812.90,58.16 813.07,51.82 813.23,58.16 813.40,50.03 813.57,59.27 813.73,50.26 813.90,58.51 814.07,48.34 814.23,59.52 814.40,44.56 814.57,59.90 814.73,50.38 814.90,59.94 815.07,46.71 815.23,60.65 815.40,50.76 815.57,59.26 815.73,50.04 815.90,59.14 816.07,50.61 816.23,60.17 816.40,49.90 816.57,58.94 816.73,50.99 816.90,58.69 817.07,47.77 817.23,59.40 817.40,48.44 817.57,59.07 817.73,50.64 817.90,59.74 818.07,50.98 818.23,61.64 818.40,49.86 818.57,60.26 818.73,49.87 818.90,59.57 819.07,50.36 819.23,61.13 819.40,51.38 819.57,60.36 819.73,50.30 819.90,58.33 820.07,51.13 820.23,61.31 820.40,49.44 820.57,59.24 820.73,48.36 820.90,59.90 821.07,49.12 821.23,58.90 821.40,48.23 821.57,59.20 821.73,50.42 821.90,60.14 822.07,50.44 822.23,59.55 822.40,48.63 822.57,60.72 822.73,50.76 822.90,59.79 823.07,51.02 823.23,59.54 823.40,50.94 823.57,58.81 823.73,50.91 823.90,58.56 824.07,50.67 824.23,59.03 824.40,50.84 824.57,64.02 824.73,50.59 824.90,59.44 825.07,51.24 825.23,61.27 825.40,45.15 825.57,59.91 825.73,48.43 825.90,58.67 826.07,51.16 826.23,60.47 826.40,47.19 826.57,58.33 826.73,51.27 826.90,58.36 827.07,46.67 827.23,58.78 827.40,51.68 827.57,59.74 827.73,49.78 827.90,58.03 828.07,49.75 828.23,58.48 828.40,50.24 828.57,59.46 828.73,49.77 828.90,59.80 829.07,50.86 829.23,59.06 829.40,45.73 829.57,59.67 829.73,48.78 829.90,60.15 830.07,49.86 830.23,61.92 830.40,48.71 830.57,59.33 830.73,50.69 830.90,59.09 831.07,50.06 831.23,58.78 831.40,51.33 831.57,58.57 831.73,50.95 831.90,60.03 832.07,50.18 832.23,58.76 832.40,40.65 832.57,59.74 832.73,49.51 832.90,63.73 833.07,50.39 833.23,59.64 833.40,49.93 833.57,60.36 833.73,49.61 833.90,59.15 834.07,46.51 834.23,58.76 834.40,50.15 834.57,58.98 834.73,49.50 834.90,59.12 835.07,50.72 835.23,59.56 835.40,50.20 835.57,59.22 835.73,49.95 835.90,61.50 836.07,50.24 836.23,60.04 836.40,46.77 836.57,60.94 836.73,50.28 836.90,59.53 837.07,48.79 837.23,58.80 837.40,46.83 837.57,58.47 837.73,48.87 837.90,61.94 838.07,49.63 838.23,58.61 838.40,49.02 838.57,59.74 838.73,50.23 838.90,59.47 839.07,50.74 839.23,58.88 839.40,49.36 839.57,61.08 839.73,49.57 839.90,58.99 840.07,46.91 840.23,59.78 840.40,48.57 840.57,65.90 840.73,50.99 840.90,58.96 841.07,48.71 841.23,60.54 841.40,49.86 841.57,61.40 841.73,48.89 841.90,58.99 842.07,49.71 842.23,59.87 842.40,50.80 842.57,59.75 842.73,51.00 842.90,59.03 843.07,50.50 843.23,58.83 843.40,49.99 843.57,58.74 843.73,50.81 843.90,59.93 844.07,47.20 844.23,58.66 844.40,50.28 844.57,59.30 844.73,51.03 844.90,59.03 845.07,47.37 845.23,59.05 845.40,45.62 845.57,60.20 845.73,50.38 845.90,61.53 846.07,40.96 846.23,68.38 846.40,50.11 846.57,59.32 846.73,48.03 846.90,61.82 847.07,50.30 847.23,59.29 847.40,48.53 847.57,59.60 847.73,44.91 847.90,59.68 848.07,50.00 848.23,59.70 848.40,50.45 848.57,59.09 848.73,46.35 848.90,58.95 849.07,49.13 849.23,61.34 849.40,48.74 849.57,59.36 849.73,50.11 849.90,60.14 850.07,49.69 850.23,59.40 850.40,50.62 850.57,61.77 850.73,49.01 850.90,59.07 851.07,50.87 851.23,59.38 851.40,48.53 851.57,58.95 851.73,46.80 851.90,58.54 852.07,50.10 852.23,58.26 852.40,50.92 852.57,58.18 852.73,51.21 852.90,58.27 853.07,51.66 853.23,58.99 853.40,50.93 853.57,61.14 853.73,51.15 853.90,59.36 854.07,48.94 854.23,59.19 854.40,48.55 854.57,64.29 854.73,49.27 854.90,61.05 855.07,48.92 855.23,60.31 855.40,50.47 855.57,59.39 855.73,49.35 855.90,60.33 856.07,49.15 856.23,59.17 856.40,49.98 856.57,59.53 856.73,49.78 856.90,59.98 857.07,48.29 857.23,59.33 857.40,49.85 857.57,58.91 857.73,50.73 857.90,61.62 858.07,50.98 858.23,59.91 858.40,49.80 858.57,60.05 858.73,49.04 858.90,58.97 859.07,48.86 859.23,60.22 859.40,50.67 859.57,59.20 859.73,49.40 859.90,60.24 860.07,43.97 860.23,59.02 860.40,49.64 860.57,59.32 860.73,49.50 860.90,59.35 861.07,49.94 861.23,59.15 861.40,50.36 861.57,61.58 861.73,48.12 861.90,59.93 862.07,49.37 862.23,59.89 862.40,49.76 862.57,59.44 862.73,49.82 862.90,59.14 863.07,50.62 863.23,60.52 863.40,49.65 863.57,60.21 863.73,50.32 863.90,61.36 864.07,49.56 864.23,60.34 864.40,48.56 864.57,62.42 864.73,49.94 864.90,70.57 865.07,49.79 865.23,59.42 865.40,49.47 865.57,59.07 865.73,49.44 865.90,58.67 866.07,51.17 866.23,61.35 866.40,50.84 866.57,61.20 866.73,48.07 866.90,60.55 867.07,48.11 867.23,59.30 867.40,48.97 867.57,61.95 867.73,44.51 867.90,59.40 868.07,50.17 868.23,59.50 868.40,48.52 868.57,59.52 868.73,49.09 868.90,58.92 869.07,50.78 869.23,59.39 869.40,51.01 869.57,58.80 869.73,51.30 869.90,58.63 870.07,51.10 870.23,59.57 870.40,48.73 870.57,60.92 870.73,50.86 870.90,59.16 871.07,49.71 871.23,60.58 871.40,49.85 871.57,59.28 871.73,50.65 871.90,59.17 872.07,49.65 872.23,60.30 872.40,50.11 872.57,62.39 872.73,50.47 872.90,59.50 873.07,49.98 873.23,60.90 873.40,49.25 873.57,61.72 873.73,50.02 873.90,59.51 874.07,50.22 874.23,59.46 874.40,50.58 874.57,63.64 874.73,49.88 874.90,64.52 875.07,47.30 875.23,59.98 875.40,49.10 875.57,60.00 875.73,49.08 875.90,61.35 876.07,49.22 876.23,64.55 876.40,49.08 876.57,67.54 876.73,47.44 876.90,61.40 877.07,49.08 877.23,60.02 877.40,49.19 877.57,65.40 877.73,46.54 877.90,62.03 878.07,48.81 878.23,64.01 878.40,50.22 878.57,61.07 878.73,50.36 878.90,59.04 879.07,50.37 879.23,59.70 879.40,51.31 879.57,58.46 879.73,51.62 879.90,59.53 880.07,51.40 880.23,59.41 880.40,51.07 880.57,58.43 880.73,47.49 880.90,58.09 881.07,44.41 881.23,58.08 881.40,50.86 881.57,60.13 881.73,50.30 881.90,58.52 882.07,48.36 882.23,59.06 882.40,48.55 882.57,58.91 882.73,50.40 882.90,61.04 883.07,48.28 883.23,61.48 883.40,50.44 883.57,60.65 883.73,48.47 883.90,60.09 884.07,49.83 884.23,62.56 884.40,49.59 884.57,60.57 884.73,50.54 884.90,59.55 885.07,47.98 885.23,58.48 885.40,50.23 885.57,59.03 885.73,51.02 885.90,59.05 886.07,48.70 886.23,58.90 886.40,49.78 886.57,59.97 886.73,50.47 886.90,58.90 887.07,49.81 887.23,60.02 887.40,50.65 887.57,59.99 887.73,49.85 887.90,59.79 888.07,45.79 888.23,62.09 888.40,42.92 888.57,58.81 888.73,51.10 888.90,59.27 889.07,43.15 889.23,63.18 889.40,50.53 889.57,60.07 889.73,51.03 889.90,58.60 890.07,51.84 890.23,57.86 890.40,50.13 890.57,58.21 890.73,51.98 890.90,57.75 891.07,52.05 891.23,60.44 891.40,51.38 891.57,58.38 891.73,51.20 891.90,58.62 892.07,51.59 892.23,58.98 892.40,49.70 892.57,59.71 892.73,50.73 892.90,58.68 893.07,50.26 893.23,62.51 893.40,49.14 893.57,60.02 893.73,48.90 893.90,60.99 894.07,50.69 894.23,60.04 894.40,47.06 894.57,59.32 894.73,50.43 894.90,59.13 895.07,46.01 895.23,61.37 895.40,50.51 895.57,60.28 895.73,47.73 895.90,62.74 896.07,51.09 896.23,59.33 896.40,47.50 896.57,59.37 896.73,50.94 896.90,60.43 897.07,51.06 897.23,63.11 897.40,46.29 897.57,65.85 897.73,50.86 897.90,59.90 898.07,50.75 898.23,59.57 898.40,50.04 898.57,58.79 898.73,50.84 898.90,58.44 899.07,51.08 899.23,59.58 899.40,43.84 899.57,58.26 899.73,50.61 899.90,58.85 900.07,50.69 900.23,60.88 900.40,50.64 900.57,58.61 900.73,51.32 900.90,61.01 901.07,51.67 901.23,59.73 901.40,51.24 901.57,60.20 901.73,51.36 901.90,60.98 902.07,51.32 902.23,60.44 902.40,51.08 902.57,61.92 902.73,50.56 902.90,59.43 903.07,49.46 903.23,58.69 903.40,44.10 903.57,59.78 903.73,49.02 903.90,58.92 904.07,50.38 904.23,59.46 904.40,49.79 904.57,58.90 904.73,50.80 904.90,63.85 905.07,49.61 905.23,59.40 905.40,50.68 905.57,58.60 905.73,44.39 905.90,58.48 906.07,47.96 906.23,60.97 906.40,51.60 906.57,58.82 906.73,50.95 906.90,58.40 907.07,49.43 907.23,59.24 907.40,50.52 907.57,58.81 907.73,50.86 907.90,59.71 908.07,50.14 908.23,61.78 908.40,48.61 908.57,61.39 908.73,47.94 908.90,59.89 909.07,47.96 909.23,58.82 909.40,48.60 909.57,59.63 909.73,50.42 909.90,62.54 910.07,50.88 910.23,58.81 910.40,49.08 910.57,61.02 910.73,50.12 910.90,59.83 911.07,49.78 911.23,61.74 911.40,49.54 911.57,58.93 911.73,50.63 911.90,62.14 912.07,49.82 912.23,59.27 912.40,44.63 912.57,58.39 912.73,51.39 912.90,59.31 913.07,48.45 913.23,59.76 913.40,51.25 913.57,59.70 913.73,51.51 913.90,60.94 914.07,47.43 914.23,58.42 914.40,51.07 914.57,58.30 914.73,51.33 914.90,58.95 915.07,50.63 915.23,58.55 915.40,49.26 915.57,60.02 915.73,51.45 915.90,58.74 916.07,50.60 916.23,58.20 916.40,50.97 916.57,61.63 916.73,50.77 916.90,60.88 917.07,49.17 917.23,61.19 917.40,48.89 917.57,59.55 917.73,51.46 917.90,58.26 918.07,49.92 918.23,58.42 918.40,51.20 918.57,59.03 918.73,49.98 918.90,60.10 919.07,51.11 919.23,59.13 919.40,50.86 919.57,58.77 919.73,50.59 919.90,58.78 920.07,49.96 920.23,59.64 920.40,50.10 920.57,58.88 920.73,46.74 920.90,59.16 921.07,48.82 921.23,59.24 921.40,50.79 921.57,58.74 921.73,50.51 921.90,58.44 922.07,51.05 922.23,58.85 922.40,50.74 922.57,60.12 922.73,48.58 922.90,59.08 923.07,50.54 923.23,59.90 923.40,50.43 923.57,63.81 923.73,47.20 923.90,60.57 924.07,49.17 924.23,63.59 924.40,50.59 924.57,59.90 924.73,50.47 924.90,61.72 925.07,46.16 925.23,59.88 925.40,49.59 925.57,65.56 925.73,49.83 925.90,61.35 926.07,47.81 926.23,60.29 926.40,47.92 926.57,61.57 926.73,44.98 926.90,62.13 927.07,47.65 927.23,59.63 927.40,50.25 927.57,61.90 927.73,50.28 927.90,58.31 928.07,49.84 928.23,58.73 928.40,51.36 928.57,58.80 928.73,49.92 928.90,61.26 929.07,49.90 929.23,61.48 929.40,45.97 929.57,59.35 929.73,47.66 929.90,59.60 930.07,49.49 930.23,59.36 930.40,50.04 930.57,59.83 930.73,50.39 930.90,64.57 931.07,48.74 931.23,58.78 931.40,51.04 931.57,58.63 931.73,49.35 931.90,58.99 932.07,47.19 932.23,60.07 932.40,49.22 932.57,58.84 932.73,49.77 932.90,58.67 933.07,48.03 933.23,60.06 933.40,50.31 933.57,58.65 933.73,50.09 933.90,59.46 934.07,50.46 934.23,58.68 934.40,50.01 934.57,59.40 934.73,50.60 934.90,63.19 935.07,49.66 935.23,60.23 935.40,50.12 935.57,62.53 935.73,50.00 935.90,60.86 936.07,51.34 936.23,58.80 936.40,45.62 936.57,61.39 936.73,50.95 936.90,60.99 937.07,49.30 937.23,58.95 937.40,48.54 937.57,60.71 937.73,50.28 937.90,62.35 938.07,50.34 938.23,59.27 938.40,49.61 938.57,60.37 938.73,46.06 938.90,67.06 939.07,50.93 939.23,58.80 939.40,50.36 939.57,60.24 939.73,48.49 939.90,61.34 940.07,47.65 940.23,61.58 940.40,49.64 940.57,58.67 940.73,50.85 940.90,63.86 941.07,48.77 941.23,59.17 941.40,50.37 941.57,58.99 941.73,48.95 941.90,59.11 942.07,49.86 942.23,59.12 942.40,50.89 942.57,62.04 942.73,50.15 942.90,59.25 943.07,50.34 943.23,59.85 943.40,50.67 943.57,65.54 943.73,50.70 943.90,60.54 944.07,48.55 944.23,60.44 944.40,49.56 944.57,59.33 944.73,50.38 944.90,60.56 945.07,50.43 945.23,60.19 945.40,50.36 945.57,61.03 945.73,50.31 945.90,60.75 946.07,50.79 946.23,59.80 946.40,40.54 946.57,60.69 946.73,48.80 946.90,62.08 947.07,49.93 947.23,58.51 947.40,46.76 947.57,65.08 947.73,47.28 947.90,59.85 948.07,51.70 948.23,59.34 948.40,47.88 948.57,58.34 948.73,50.48 948.90,58.10 949.07,51.62 949.23,59.05 949.40,51.45 949.57,58.55 949.73,50.81 949.90,60.58 950.07,49.45 950.23,60.52 950.40,51.04 950.57,59.20 950.73,51.47 950.90,57.90 951.07,50.89 951.23,57.94 951.40,51.50 951.57,59.33 951.73,49.28 951.90,58.32 952.07,50.84 952.23,58.80 952.40,52.37 952.57,57.20 952.73,51.92 952.90,58.05 953.07,52.45 953.23,57.39 953.40,51.61 953.57,58.18 953.73,39.89 953.90,57.78 954.07,49.93 954.23,60.37 954.40,51.20 954.57,63.15 954.73,50.35 954.90,61.62 955.07,51.06 955.23,59.24 955.40,47.64 955.57,64.42 955.73,50.26 955.90,62.91 956.07,50.41 956.23,59.31 956.40,49.59 956.57,60.32 956.73,48.36 956.90,59.41 957.07,46.05 957.23,66.59 957.40,47.99 957.57,62.12 957.73,50.22 957.90,58.92 958.07,49.67 958.23,58.85 958.40,50.83 958.57,59.47 958.73,47.95 958.90,61.01 959.07,50.59 959.23,59.93 959.40,47.70 959.57,62.96 959.73,49.86 959.90,60.12 960.07,50.49 960.23,59.55 960.40,49.48 960.57,59.46 960.73,51.28 960.90,58.36 961.07,50.39 961.23,63.05 961.40,50.19 961.57,67.54 961.73,48.83 961.90,58.55 962.07,49.49 962.23,60.29 962.40,49.37 962.57,58.94 962.73,50.65 962.90,59.95 963.07,42.76 963.23,60.16 963.40,49.30 963.57,59.18 963.73,50.40 963.90,60.01 964.07,45.74 964.23,61.96 964.40,49.24 964.57,63.90 964.73,50.67 964.90,60.19 965.07,50.33 965.23,60.59 965.40,48.56 965.57,58.95 965.73,49.19 965.90,59.20 966.07,46.74 966.23,58.77 966.40,50.17 966.57,70.48 966.73,51.04 966.90,59.70 967.07,50.57 967.23,59.49 967.40,50.88 967.57,64.86 967.73,50.89 967.90,60.12 968.07,42.96 968.23,58.96 968.40,50.54 968.57,67.23 968.73,51.06 968.90,60.18 969.07,50.57 969.23,59.19 969.40,49.15 969.57,58.79 969.73,50.89 969.90,59.79 970.07,47.41 970.23,59.04 970.40,50.17 970.57,58.90 970.73,49.98 970.90,59.55 971.07,48.54 971.23,61.53 971.40,45.74 971.57,66.20 971.73,49.49 971.90,66.02 972.07,49.92 972.23,60.00 972.40,47.86 972.57,61.30 972.73,47.04 972.90,61.17 973.07,50.58 973.23,59.61 973.40,50.76 973.57,62.07 973.73,50.81 973.90,59.57 974.07,49.46 974.23,66.23 974.40,45.97 974.57,59.02 974.73,50.24 974.90,59.48 975.07,50.90 975.23,60.84 975.40,48.95 975.57,59.40 975.73,48.07 975.90,59.02 976.07,50.30 976.23,59.73 976.40,51.22 976.57,58.66 976.73,50.66 976.90,58.96 977.07,51.12 977.23,60.06 977.40,50.82 977.57,59.75 977.73,50.86 977.90,60.62 978.07,49.25 978.23,61.84 978.40,49.87 978.57,68.69 978.73,50.97 978.90,59.72 979.07,46.28 979.23,59.25 979.40,50.30 979.57,61.81 979.73,50.23 979.90,59.04 980.07,50.36 980.23,59.39 980.40,51.03 980.57,59.63 980.73,46.84 980.90,63.76 981.07,47.91 981.23,59.94 981.40,47.25 981.57,59.94 981.73,49.44 981.90,61.17 982.07,50.74 982.23,62.38 982.40,49.79 982.57,61.15 982.73,51.25 982.90,62.29 983.07,49.73 983.23,58.27 983.40,51.47 983.57,60.91 983.73,51.03 983.90,58.50 984.07,45.13 984.23,60.62 984.40,48.42 984.57,60.63 984.73,49.61 984.90,59.60 985.07,50.75 985.23,60.09 985.40,49.89 985.57,61.33 985.73,50.72 985.90,67.26 986.07,49.58 986.23,61.78 986.40,48.98 986.57,59.86 986.73,50.30 986.90,60.01 987.07,51.25 987.23,58.35 987.40,51.06 987.57,58.96 987.73,51.63 987.90,58.34 988.07,51.50 988.23,63.01 988.40,50.19 988.57,59.23 988.73,49.26 988.90,59.95 989.07,46.50 989.23,59.32 989.40,48.70 989.57,59.51 989.73,50.16 989.90,61.61 990.07,50.09 990.23,60.11 990.40,49.86 990.57,59.74 990.73,49.90 990.90,61.96 991.07,47.37 991.23,59.88 991.40,49.63 991.57,59.76 991.73,47.78 991.90,62.60 992.07,49.61 992.23,70.73 992.40,48.75 992.57,58.81 992.73,49.91 992.90,61.98 993.07,51.00 993.23,58.49 993.40,51.00 993.57,60.35 993.73,50.98 993.90,58.82 994.07,49.59 994.23,58.89 994.40,50.72 994.57,60.25 994.73,49.72 994.90,59.65 995.07,47.66 995.23,59.25 995.40,49.97 995.57,59.95 995.73,50.61 995.90,59.89 996.07,48.88 996.23,61.24 996.40,50.58 996.57,60.91 996.73,48.82 996.90,59.98 997.07,50.39 997.23,58.43 997.40,51.27 997.57,59.29 997.73,51.69 997.90,59.82 998.07,50.39 998.23,58.27 998.40,51.43 998.57,58.98 998.73,49.78 998.90,58.18 999.07,51.45 999.23,62.02 999.40,50.34 999.57,59.06 999.73,50.09 999.90,59.29 1000.07,50.81 1000.23,59.11 1000.40,50.81 1000.57,62.35 1000.73,46.88" fill="none" stroke="#0000ff" stroke-width="0.68" stroke-linejoin="round"/>
<rect x="536.4" y="20.5" width="464.5" height="70.5" fill="none" stroke="#7a7a7a" stroke-width="0.9"/>
<line x1="640.12" y1="91" x2="640.12" y2="87" stroke="#7a7a7a" stroke-width="0.8"/>
<line x1="640.12" y1="20.5" x2="640.12" y2="24.5" stroke="#7a7a7a" stroke-width="0.8"/>
<line x1="743.85" y1="91" x2="743.85" y2="87" stroke="#7a7a7a" stroke-width="0.8"/>
<line x1="743.85" y1="20.5" x2="743.85" y2="24.5" stroke="#7a7a7a" stroke-width="0.8"/>
<line x1="847.57" y1="91" x2="847.57" y2="87" stroke="#7a7a7a" stroke-width="0.8"/>
<line x1="847.57" y1="20.5" x2="847.57" y2="24.5" stroke="#7a7a7a" stroke-width="0.8"/>
<line x1="951.3" y1="91" x2="951.3" y2="87" stroke="#7a7a7a" stroke-width="0.8"/>
<line x1="951.3" y1="20.5" x2="951.3" y2="24.5" stroke="#7a7a7a" stroke-width="0.8"/>
</g>
<g id="panel-c">
<polyline points="536.40,226.89 536.65,202.27 536.90,226.39 537.15,192.38 537.40,224.62 537.65,198.66 537.90,228.57 538.15,214.78 538.40,227.85 538.65,209.62 538.90,227.07 539.15,202.52 539.40,222.75 539.65,207.48 539.90,227.34 540.15,204.96 540.40,221.39 540.65,209.24 540.90,221.53 541.15,203.38 541.40,225.23 541.65,193.38 541.90,224.73 542.15,199.99 542.40,225.37 542.65,206.75 542.90,228.26 543.15,214.58 543.40,224.92 543.65,204.87 543.90,227.28 544.15,194.73 544.40,226.85 544.65,201.78 544.90,222.30 545.15,192.54 545.40,224.99 545.65,188.26 545.90,217.38 546.15,193.68 546.40,224.86 546.65,203.84 546.90,228.42 547.15,207.40 547.40,227.14 547.65,210.99 547.90,226.13 548.15,215.84 548.40,224.81 548.65,213.99 548.90,227.59 549.15,213.01 549.40,229.11 549.65,213.56 549.90,228.14 550.15,206.88 550.40,221.35 550.65,197.97 550.90,227.44 551.15,204.20 551.40,227.87 551.65,206.69 551.90,223.35 552.15,197.91 552.40,222.90 552.65,204.05 552.90,227.62 553.15,213.20 553.40,220.97 553.65,208.51 553.90,226.46 554.15,207.44 554.40,222.14 554.65,198.94 554.90,226.64 555.15,195.98 555.40,227.90 555.65,202.58 555.90,227.43 556.15,213.67 556.40,225.62 556.65,213.62 556.90,223.97 557.15,196.71 557.40,226.06 557.65,187.90 557.90,226.87 558.15,193.22 558.40,227.28 558.65,208.09 558.90,224.23 559.15,202.13 559.40,224.47 559.65,200.08 559.90,227.68 560.15,203.90 560.40,218.96 560.65,208.22 560.90,220.26 561.15,208.50 561.40,219.64 561.65,211.52 561.90,226.97 562.15,208.56 562.40,227.22 562.65,205.93 562.90,224.47 563.15,205.25 563.40,228.87 563.65,209.15 563.90,228.16 564.15,213.66 564.40,226.22 564.65,212.88 564.90,226.96 565.15,208.56 565.40,227.10 565.65,207.36 565.90,225.16 566.15,193.17 566.40,223.77 566.65,184.85 566.90,218.15 567.15,190.28 567.40,227.14 567.65,203.18 567.90,227.14 568.15,207.69 568.40,228.09 568.65,206.51 568.90,226.73 569.15,198.04 569.40,218.14 569.65,204.01 569.90,225.84 570.15,211.42 570.40,228.83 570.65,209.72 570.90,226.48 571.15,212.42 571.40,224.87 571.65,215.42 571.90,229.06 572.15,213.14 572.40,227.04 572.65,209.04 572.90,225.98 573.15,211.94 573.40,227.28 573.65,204.30 573.90,222.13 574.15,194.56 574.40,224.64 574.65,201.35 574.90,225.31 575.15,212.63 575.40,224.49 575.65,213.21 575.90,227.50 576.15,208.51 576.40,218.66 576.65,201.27 576.90,223.21 577.15,206.39 577.40,227.49 577.65,204.22 577.90,220.63 578.15,195.01 578.40,208.12 578.65,186.87 578.90,219.05 579.15,192.35 579.40,227.43 579.65,212.14 579.90,222.00 580.15,210.32 580.40,226.27 580.65,204.22 580.90,225.66 581.15,193.75 581.40,222.51 581.65,185.45 581.90,224.60 582.15,190.91 582.40,221.71 582.65,209.17 582.90,218.62 583.15,209.66 583.40,226.56 583.65,212.39 583.90,226.58 584.15,192.67 584.40,222.57 584.65,184.29 584.90,221.83 585.15,189.65 585.40,219.70 585.65,190.61 585.90,227.66 586.15,195.94 586.40,227.09 586.65,198.84 586.90,224.47 587.15,193.43 587.40,227.69 587.65,199.78 587.90,226.86 588.15,208.85 588.40,228.33 588.65,203.95 588.90,224.53 589.15,194.20 589.40,226.11 589.65,189.00 589.90,224.62 590.15,194.15 590.40,224.47 590.65,199.38 590.90,219.69 591.15,190.20 591.40,224.56 591.65,195.32 591.90,224.37 592.15,206.07 592.40,227.61 592.65,200.77 592.90,215.30 593.15,191.40 593.40,225.19 593.65,197.01 593.90,226.67 594.15,191.14 594.40,219.01 594.65,185.77 594.90,223.06 595.15,187.47 595.40,223.42 595.65,192.81 595.90,225.42 596.15,198.49 596.40,208.71 596.65,177.48 596.90,225.64 597.15,194.63 597.40,228.19 597.65,203.10 597.90,228.33 598.15,205.32 598.40,225.55 598.65,196.14 598.90,226.48 599.15,202.76 599.40,221.09 599.65,215.63 599.90,220.22 600.15,210.87 600.40,227.89 600.65,177.48 600.90,224.56 601.15,189.84 601.40,227.03 601.65,195.16 601.90,217.71 602.15,194.60 602.40,222.55 602.65,201.68 602.90,227.20 603.15,212.17 603.40,226.31 603.65,212.40 603.90,228.28 604.15,206.41 604.40,226.95 604.65,197.54 604.90,225.56 605.15,204.07 605.40,225.12 605.65,194.32 605.90,221.50 606.15,201.48 606.40,226.09 606.65,196.70 606.90,219.55 607.15,203.52 607.40,227.09 607.65,196.11 607.90,227.58 608.15,203.12 608.40,224.99 608.65,206.10 608.90,227.02 609.15,199.57 609.40,202.34 609.65,205.61 609.90,219.24 610.15,215.01 610.40,228.09 610.65,215.12 610.90,226.14 611.15,212.38 611.40,224.08 611.65,213.94 611.90,219.83 612.15,209.98 612.40,219.71 612.65,202.67 612.90,226.86 613.15,207.78 613.40,224.68 613.65,205.01 613.90,226.56 614.15,209.47 614.40,219.36 614.65,206.82 614.90,222.32 615.15,197.41 615.40,227.84 615.65,203.99 615.90,225.33 616.15,204.34 616.40,225.28 616.65,204.37 616.90,227.63 617.15,207.38 617.40,226.50 617.65,211.16 617.90,224.08 618.15,208.79 618.40,221.79 618.65,206.23 618.90,223.42 619.15,210.34 619.40,222.09 619.65,217.81 619.90,226.30 620.15,209.08 620.40,227.11 620.65,201.20 620.90,225.55 621.15,202.79 621.40,224.67 621.65,192.61 621.90,227.12 622.15,199.15 622.40,226.06 622.65,176.14 622.90,221.40 623.15,188.60 623.40,214.98 623.65,185.57 623.90,217.12 624.15,191.26 624.40,226.32 624.65,200.89 624.90,225.44 625.15,207.77 625.40,227.46 625.65,210.04 625.90,223.66 626.15,208.80 626.40,226.98 626.65,200.74 626.90,225.20 627.15,206.21 627.40,228.10 627.65,212.84 627.90,228.97 628.15,216.23 628.40,224.71 628.65,213.09 628.90,228.34 629.15,212.62 629.40,225.24 629.65,207.13 629.90,227.52 630.15,210.51 630.40,228.99 630.65,210.36 630.90,222.90 631.15,203.64 631.40,218.84 631.65,207.86 631.90,226.94 632.15,208.74 632.40,225.50 632.65,206.45 632.90,224.48 633.15,209.91 633.40,220.61 633.65,205.37 633.90,227.01 634.15,195.96 634.40,220.87 634.65,195.16 634.90,221.43 635.15,201.51 635.40,226.16 635.65,192.08 635.90,226.12 636.15,197.85 636.40,227.45 636.65,193.37 636.90,224.75 637.15,185.12 637.40,225.55 637.65,190.50 637.90,220.32 638.15,200.37 638.40,221.54 638.65,194.38 638.90,227.00 639.15,196.36 639.40,224.25 639.65,187.95 639.90,213.31 640.15,193.21 640.40,226.81 640.65,211.00 640.90,224.84 641.15,210.05 641.40,223.69 641.65,204.12 641.90,227.74 642.15,205.81 642.40,228.89 642.65,209.49 642.90,220.76 643.15,201.52 643.40,226.21 643.65,192.19 643.90,227.88 644.15,198.04 644.40,218.60 644.65,194.00 644.90,227.96 645.15,200.03 645.40,228.65 645.65,205.33 645.90,227.47 646.15,211.42 646.40,221.96 646.65,206.75 646.90,225.83 647.15,209.76 647.40,224.59 647.65,203.65 647.90,228.55 648.15,207.96 648.40,225.78 648.65,209.94 648.90,227.33 649.15,212.50 649.40,227.80 649.65,211.25 649.90,226.74 650.15,206.10 650.40,227.35 650.65,207.08 650.90,227.58 651.15,199.16 651.40,226.60 651.65,204.84 651.90,226.68 652.15,209.46 652.40,225.24 652.65,206.99 652.90,225.00 653.15,210.55 653.40,223.33 653.65,212.84 653.90,226.39 654.15,209.83 654.40,225.52 654.65,210.05 654.90,227.55 655.15,212.89 655.40,226.09 655.65,208.53 655.90,226.59 656.15,201.33 656.40,225.64 656.65,206.80 656.90,218.09 657.15,201.89 657.40,224.23 657.65,207.00 657.90,226.33 658.15,201.29 658.40,223.53 658.65,206.57 658.90,226.90 659.15,211.46 659.40,228.52 659.65,208.02 659.90,228.06 660.15,211.41 660.40,220.06 660.65,205.81 660.90,214.47 661.15,196.31 661.40,217.87 661.65,203.00 661.90,227.73 662.15,204.92 662.40,213.25 662.65,206.99 662.90,227.64 663.15,201.84 663.40,226.23 663.65,192.06 663.90,221.02 664.15,186.61 664.40,226.19 664.65,192.20 664.90,228.56 665.15,210.60 665.40,228.55 665.65,211.79 665.90,228.37 666.15,210.36 666.40,225.52 666.65,203.82 666.90,221.84 667.15,208.43 667.40,225.86 667.65,211.67 667.90,227.46 668.15,212.81 668.40,227.36 668.65,208.04 668.90,226.63 669.15,199.92 669.40,225.63 669.65,205.63 669.90,223.19 670.15,212.37 670.40,226.82 670.65,207.69 670.90,227.28 671.15,199.32 671.40,224.36 671.65,192.11 671.90,227.59 672.15,198.26 672.40,219.02 672.65,207.05 672.90,225.51 673.15,210.72 673.40,225.74 673.65,210.67 673.90,218.61 674.15,213.33 674.40,229.08 674.65,215.67 674.90,227.30 675.15,214.02 675.40,228.31 675.65,206.59 675.90,216.87 676.15,197.48 676.40,226.15 676.65,190.78 676.90,221.62 677.15,196.38 677.40,219.82 677.65,205.53 677.90,223.15 678.15,207.74 678.40,228.11 678.65,211.17 678.90,223.23 679.15,210.77 679.40,218.18 679.65,204.53 679.90,226.02 680.15,208.84 680.40,227.80 680.65,209.03 680.90,226.03 681.15,201.66 681.40,223.86 681.65,206.76 681.90,227.04 682.15,207.38 682.40,227.36 682.65,210.88 682.90,228.98 683.15,211.68 683.40,227.30 683.65,213.97 683.90,228.19 684.15,211.29 684.40,228.64 684.65,212.60 684.90,226.08 685.15,207.87 685.40,216.86 685.65,205.43 685.90,227.94 686.15,209.44 686.40,222.37 686.65,206.86 686.90,227.02 687.15,198.14 687.40,226.09 687.65,204.14 687.90,229.01 688.15,214.81 688.40,225.85 688.65,207.34 688.90,227.85 689.15,199.00 689.40,222.51 689.65,204.74 689.90,227.20 690.15,209.95 690.40,205.84 690.65,203.42 690.90,227.87 691.15,207.91 691.40,220.30 691.65,202.73 691.90,227.18 692.15,193.06 692.40,226.38 692.65,199.32 692.90,227.88 693.15,206.55 693.40,228.91 693.65,215.19 693.90,228.43 694.15,210.71 694.40,224.40 694.65,204.84 694.90,225.29 695.15,208.89 695.40,223.22 695.65,213.31 695.90,224.89 696.15,208.10 696.40,224.25 696.65,200.54 696.90,228.61 697.15,205.77 697.40,226.50 697.65,215.41 697.90,228.01 698.15,214.81 698.40,224.06 698.65,206.60 698.90,224.93 699.15,198.10 699.40,220.63 699.65,203.41 699.90,226.34 700.15,207.82 700.40,228.51 700.65,204.16 700.90,223.00 701.15,208.35 701.40,224.60 701.65,202.66 701.90,224.06 702.15,193.18 702.40,225.56 702.65,199.55 702.90,222.43 703.15,194.87 703.40,224.47 703.65,186.87 703.90,226.12 704.15,190.91 704.40,224.45 704.65,182.89 704.90,221.05 705.15,188.07 705.40,225.86 705.65,187.63 705.90,224.30 706.15,185.64 706.40,219.20 706.65,179.99 706.90,217.26 707.15,183.17 707.40,226.43 707.65,192.84 707.90,227.93 708.15,200.15 708.40,225.08 708.65,202.61 708.90,224.53 709.15,207.65 709.40,224.00 709.65,208.12 709.90,226.51 710.15,211.63 710.40,224.43 710.65,211.92 710.90,226.15 711.15,209.97 711.40,227.89 711.65,208.70 711.90,226.27 712.15,194.67 712.40,217.14 712.65,186.35 712.90,225.39 713.15,192.11 713.40,224.15 713.65,203.39 713.90,225.97 714.15,195.69 714.40,218.14 714.65,187.05 714.90,224.31 715.15,192.77 715.40,217.31 715.65,188.69 715.90,218.38 716.15,181.22 716.40,224.34 716.65,185.66 716.90,227.80 717.15,203.89 717.40,225.57 717.65,208.61 717.90,220.85 718.15,203.13 718.40,227.44 718.65,208.04 718.90,227.76 719.15,212.15 719.40,228.72 719.65,209.55 719.90,225.45 720.15,212.29 720.40,226.19 720.65,206.58 720.90,223.33 721.15,207.74 721.40,222.29 721.65,199.00 721.90,223.35 722.15,198.17 722.40,223.95 722.65,204.36 722.90,223.82 723.15,211.14 723.40,224.75 723.65,205.73 723.90,225.83 724.15,209.78 724.40,227.98 724.65,210.98 724.90,227.78 725.15,209.29 725.40,227.92 725.65,212.31 725.90,220.91 726.15,207.73 726.40,220.33 726.65,199.23 726.90,226.12 727.15,204.99 727.40,219.95 727.65,211.55 727.90,227.32 728.15,211.08 728.40,227.51 728.65,204.97 728.90,226.38 729.15,196.87 729.40,224.06 729.65,187.93 729.90,224.25 730.15,193.25 730.40,225.19 730.65,199.87 730.90,228.16 731.15,204.51 731.40,221.28 731.65,194.50 731.90,227.68 732.15,201.36 732.40,227.45 732.65,211.69 732.90,222.75 733.15,210.95 733.40,229.11 733.65,213.42 733.90,227.76 734.15,212.52 734.40,226.20 734.65,214.56 734.90,227.73 735.15,213.95 735.40,224.43 735.65,215.59 735.90,228.65 736.15,215.56 736.40,222.24 736.65,213.08 736.90,221.25 737.15,211.46 737.40,226.85 737.65,205.91 737.90,226.42 738.15,206.67 738.40,221.84 738.65,210.38 738.90,228.33 739.15,206.26 739.40,226.85 739.65,197.23 739.90,223.67 740.15,203.60 740.40,224.24 740.65,214.75 740.90,229.31 741.15,214.04 741.40,224.49 741.65,200.78 741.90,226.59 742.15,191.22 742.40,226.80 742.65,195.03 742.90,226.84 743.15,202.04 743.40,227.83 743.65,208.23 743.90,217.53 744.15,172.13 744.40,226.37 744.65,198.21 744.90,222.62 745.15,189.07 745.40,222.50 745.65,193.41 745.90,222.59 746.15,184.97 746.40,226.17 746.65,190.53 746.90,222.34 747.15,210.18 747.40,221.31 747.65,208.68 747.90,213.77 748.15,211.09 748.40,215.59 748.65,205.12 748.90,228.02 749.15,204.37 749.40,223.31 749.65,194.36 749.90,222.25 750.15,201.13 750.40,227.67 750.65,197.36 750.90,219.24 751.15,189.48 751.40,223.86 751.65,181.73 751.90,223.60 752.15,186.29 752.40,224.88 752.65,202.60 752.90,225.28 753.15,207.35 753.40,227.30 753.65,208.19 753.90,221.60 754.15,200.46 754.40,227.31 754.65,205.79 754.90,227.58 755.15,207.75 755.40,225.80 755.65,202.10 755.90,212.91 756.15,206.91 756.40,222.59 756.65,198.40 756.90,219.93 757.15,204.28 757.40,210.49 757.65,212.55 757.90,224.31 758.15,213.14 758.40,223.74 758.65,212.95 758.90,226.75 759.15,206.99 759.40,223.03 759.65,198.62 759.90,226.63 760.15,204.41 760.40,214.38 760.65,197.74 760.90,227.11 761.15,198.99 761.40,224.53 761.65,189.84 761.90,221.66 762.15,186.35 762.40,225.36 762.65,191.84 762.90,221.72 763.15,203.55 763.40,221.52 763.65,202.84 763.90,217.17 764.15,193.22 764.40,227.70 764.65,198.46 764.90,227.57 765.15,204.37 765.40,229.21 765.65,213.19 765.90,228.11 766.15,211.60 766.40,227.01 766.65,206.36 766.90,221.00 767.15,208.55 767.40,228.43 767.65,211.64 767.90,225.62 768.15,213.74 768.40,224.55 768.65,209.90 768.90,221.04 769.15,212.40 769.40,221.96 769.65,207.65 769.90,222.24 770.15,197.73 770.40,222.48 770.65,188.82 770.90,209.72 771.15,192.12 771.40,224.03 771.65,189.93 771.90,217.86 772.15,195.12 772.40,227.15 772.65,195.21 772.90,223.62 773.15,194.54 773.40,227.05 773.65,201.42 773.90,228.27 774.15,209.68 774.40,220.21 774.65,204.35 774.90,225.48 775.15,187.73 775.40,221.34 775.65,180.81 775.90,224.48 776.15,184.80 776.40,225.77 776.65,203.11 776.90,222.86 777.15,193.34 777.40,226.39 777.65,199.90 777.90,214.91 778.15,196.08 778.40,224.69 778.65,202.81 778.90,221.08 779.15,206.03 779.40,224.65 779.65,199.46 779.90,228.25 780.15,204.85 780.40,223.35 780.65,194.85 780.90,217.58 781.15,201.95 781.40,219.88 781.65,209.73 781.90,207.88 782.15,202.91 782.40,227.72 782.65,207.77 782.90,224.64 783.15,205.49 783.40,225.91 783.65,197.67 783.90,220.89 784.15,204.03 784.40,224.75 784.65,198.53 784.90,227.23 785.15,199.32 785.40,225.53 785.65,205.23 785.90,226.83 786.15,205.00 786.40,220.89 786.65,196.31 786.90,223.61 787.15,187.57 787.40,226.13 787.65,192.28 787.90,223.86 788.15,198.62 788.40,228.17 788.65,204.31 788.90,227.87 789.15,208.86 789.40,223.95 789.65,207.21 789.90,226.02 790.15,208.21 790.40,227.45 790.65,200.10 790.90,225.65 791.15,194.72 791.40,219.70 791.65,201.90 791.90,225.03 792.15,197.25 792.40,223.43 792.65,188.96 792.90,226.81 793.15,194.34 793.40,227.09 793.65,194.32 793.90,227.12 794.15,201.36 794.40,226.03 794.65,216.53 794.90,224.95 795.15,208.83 795.40,225.18 795.65,201.02 795.90,228.33 796.15,206.52 796.40,226.04 796.65,203.55 796.90,225.12 797.15,208.34 797.40,218.78 797.65,202.52 797.90,221.40 798.15,207.61 798.40,228.06 798.65,211.14 798.90,226.36 799.15,205.06 799.40,225.58 799.65,201.89 799.90,227.21 800.15,174.80 800.40,220.70 800.65,201.07 800.90,225.59 801.15,204.22 801.40,219.73 801.65,208.85 801.90,225.13 802.15,212.80 802.40,226.51 802.65,215.02 802.90,228.73 803.15,213.27 803.40,226.04 803.65,206.94 803.90,223.75 804.15,197.77 804.40,225.59 804.65,194.82 804.90,226.28 805.15,202.06 805.40,228.29 805.65,219.03 805.90,225.10 806.15,217.48 806.40,226.80 806.65,210.06 806.90,225.66 807.15,203.00 807.40,225.34 807.65,208.05 807.90,227.54 808.15,218.55 808.40,226.35 808.65,203.40 808.90,222.53 809.15,193.23 809.40,227.44 809.65,200.04 809.90,225.52 810.15,212.12 810.40,227.47 810.65,211.29 810.90,222.17 811.15,204.89 811.40,226.24 811.65,209.42 811.90,228.37 812.15,211.46 812.40,228.43 812.65,214.15 812.90,220.73 813.15,210.44 813.40,221.44 813.65,203.42 813.90,219.41 814.15,208.37 814.40,226.88 814.65,208.66 814.90,226.67 815.15,212.14 815.40,226.07 815.65,214.02 815.90,212.79 816.15,209.34 816.40,223.69 816.65,212.64 816.90,227.68 817.15,204.22 817.40,226.51 817.65,193.85 817.90,227.02 818.15,200.87 818.40,221.28 818.65,193.53 818.90,222.07 819.15,184.84 819.40,220.82 819.65,190.53 819.90,226.35 820.15,208.49 820.40,222.83 820.65,206.31 820.90,226.56 821.15,199.37 821.40,225.02 821.65,203.45 821.90,220.11 822.15,206.93 822.40,226.39 822.65,206.13 822.90,227.38 823.15,210.30 823.40,226.70 823.65,214.46 823.90,228.19 824.15,212.35 824.40,227.67 824.65,211.23 824.90,227.65 825.15,204.63 825.40,225.37 825.65,209.17 825.90,225.88 826.15,192.74 826.40,220.23 826.65,184.03 826.90,223.93 827.15,189.49 827.40,218.03 827.65,206.01 827.90,228.60 828.15,210.05 828.40,227.82 828.65,210.92 828.90,225.15 829.15,213.55 829.40,228.08 829.65,215.26 829.90,222.28 830.15,211.77 830.40,228.29 830.65,211.12 830.90,228.13 831.15,205.32 831.40,225.72 831.65,194.96 831.90,223.32 832.15,201.70 832.40,226.22 832.65,201.52 832.90,225.56 833.15,197.82 833.40,227.57 833.65,203.70 833.90,219.25 834.15,210.57 834.40,223.10 834.65,205.00 834.90,220.12 835.15,208.89 835.40,223.36 835.65,214.32 835.90,228.03 836.15,208.83 836.40,216.44 836.65,201.73 836.90,225.08 837.15,199.75 837.40,226.67 837.65,190.64 837.90,224.83 838.15,196.13 838.40,227.98 838.65,202.35 838.90,223.07 839.15,202.74 839.40,222.77 839.65,206.98 839.90,226.86 840.15,198.81 840.40,227.83 840.65,198.68 840.90,227.21 841.15,199.13 841.40,228.30 841.65,205.09 841.90,225.77 842.15,197.79 842.40,219.71 842.65,188.92 842.90,226.27 843.15,194.37 843.40,221.87 843.65,211.89 843.90,226.94 844.15,207.98 844.40,223.03 844.65,200.03 844.90,223.33 845.15,202.17 845.40,225.97 845.65,207.44 845.90,226.54 846.15,211.05 846.40,225.98 846.65,204.87 846.90,222.55 847.15,199.12 847.40,228.25 847.65,205.29 847.90,228.75 848.15,210.44 848.40,217.54 848.65,213.41 848.90,227.89 849.15,210.52 849.40,216.89 849.65,213.47 849.90,226.32 850.15,209.09 850.40,228.41 850.65,212.45 850.90,222.67 851.15,215.89 851.40,223.62 851.65,217.34 851.90,227.17 852.15,215.14 852.40,226.49 852.65,203.63 852.90,224.38 853.15,193.33 853.40,227.49 853.65,200.10 853.90,226.95 854.15,211.48 854.40,222.09 854.65,214.11 854.90,223.05 855.15,212.53 855.40,227.73 855.65,214.86 855.90,228.74 856.15,213.45 856.40,227.30 856.65,215.52 856.90,227.06 857.15,212.62 857.40,209.02 857.65,210.69 857.90,222.20 858.15,213.51 858.40,228.81 858.65,213.52 858.90,226.19 859.15,215.54 859.40,224.69 859.65,215.90 859.90,225.71 860.15,214.00 860.40,221.11 860.65,212.26 860.90,226.61 861.15,208.92 861.40,227.36 861.65,206.79 861.90,225.03 862.15,210.09 862.40,225.97 862.65,202.96 862.90,209.05 863.15,207.86 863.40,224.67 863.65,212.71 863.90,218.00 864.15,213.58 864.40,229.06 864.65,212.86 864.90,227.86 865.15,207.68 865.40,222.13 865.65,211.21 865.90,227.58 866.15,208.84 866.40,226.49 866.65,201.01 866.90,220.12 867.15,206.29 867.40,228.17 867.65,167.44 867.90,226.32 868.15,210.42 868.40,224.87 868.65,203.72 868.90,227.35 869.15,208.16 869.40,228.33 869.65,210.62 869.90,228.33 870.15,205.41 870.40,222.44 870.65,195.52 870.90,227.07 871.15,202.15 871.40,225.53 871.65,207.23 871.90,227.01 872.15,205.16 872.40,219.19 872.65,209.10 872.90,221.91 873.15,210.45 873.40,219.33 873.65,204.28 873.90,221.06 874.15,196.30 874.40,226.11 874.65,202.66 874.90,229.13 875.15,211.24 875.40,210.67 875.65,205.76 875.90,226.55 876.15,204.03 876.40,226.84 876.65,206.97 876.90,222.48 877.15,210.34 877.40,228.07 877.65,212.77 877.90,226.48 878.15,210.18 878.40,227.84 878.65,204.16 878.90,225.85 879.15,208.31 879.40,224.99 879.65,209.67 879.90,228.71 880.15,212.27 880.40,227.48 880.65,211.00 880.90,226.26 881.15,213.23 881.40,225.17 881.65,209.88 881.90,226.15 882.15,209.36 882.40,226.34 882.65,202.94 882.90,228.09 883.15,207.48 883.40,228.48 883.65,214.28 883.90,228.86 884.15,211.12 884.40,223.10 884.65,206.68 884.90,227.98 885.15,209.31 885.40,224.76 885.65,202.83 885.90,226.00 886.15,207.46 886.40,215.38 886.65,209.51 886.90,225.20 887.15,203.13 887.40,227.64 887.65,204.54 887.90,216.02 888.15,208.28 888.40,225.78 888.65,211.45 888.90,218.53 889.15,204.30 889.40,222.31 889.65,194.61 889.90,212.63 890.15,192.15 890.40,221.38 890.65,195.65 890.90,226.81 891.15,173.47 891.40,226.01 891.65,195.44 891.90,224.20 892.15,187.20 892.40,225.35 892.65,192.82 892.90,221.53 893.15,194.16 893.40,227.51 893.65,201.15 893.90,227.81 894.15,202.09 894.40,226.82 894.65,199.48 894.90,227.18 895.15,205.44 895.40,225.76 895.65,207.90 895.90,212.59 896.15,199.84 896.40,220.24 896.65,193.73 896.90,218.02 897.15,199.38 897.40,223.11 897.65,205.18 897.90,226.22 898.15,213.29 898.40,227.69 898.65,206.02 898.90,219.59 899.15,196.40 899.40,226.98 899.65,200.03 899.90,227.48 900.15,205.60 900.40,227.48 900.65,201.53 900.90,226.51 901.15,206.67 901.40,229.25 901.65,213.86 901.90,227.60 902.15,210.16 902.40,226.92 902.65,208.20 902.90,215.97 903.15,200.22 903.40,220.54 903.65,205.67 903.90,225.99 904.15,202.16 904.40,212.58 904.65,192.35 904.90,225.34 905.15,198.41 905.40,225.29 905.65,193.73 905.90,221.68 906.15,185.28 906.40,225.20 906.65,187.51 906.90,217.78 907.15,182.55 907.40,225.24 907.65,187.47 907.90,223.64 908.15,193.52 908.40,218.29 908.65,199.94 908.90,227.44 909.15,196.02 909.40,228.25 909.65,202.54 909.90,225.34 910.15,207.46 910.40,216.35 910.65,211.14 910.90,221.79 911.15,210.93 911.40,223.88 911.65,207.31 911.90,226.46 912.15,199.29 912.40,227.36 912.65,200.45 912.90,228.13 913.15,205.82 913.40,227.86 913.65,200.12 913.90,222.39 914.15,192.13 914.40,226.73 914.65,198.19 914.90,224.19 915.15,201.37 915.40,223.77 915.65,203.69 915.90,226.91 916.15,203.35 916.40,224.12 916.65,204.94 916.90,222.31 917.15,198.29 917.40,225.98 917.65,189.27 917.90,225.34 918.15,194.50 918.40,211.06 918.65,194.32 918.90,211.22 919.15,186.09 919.40,220.91 919.65,190.80 919.90,225.54 920.15,196.45 920.40,223.25 920.65,210.43 920.90,228.02 921.15,204.19 921.40,224.49 921.65,199.55 921.90,218.27 922.15,190.21 922.40,211.25 922.65,187.74 922.90,208.57 923.15,193.25 923.40,227.58 923.65,207.25 923.90,225.21 924.15,190.31 924.40,219.34 924.65,182.31 924.90,222.32 925.15,187.29 925.40,222.97 925.65,206.72 925.90,227.24 926.15,197.85 926.40,220.44 926.65,202.97 926.90,221.59 927.15,189.85 927.40,219.01 927.65,181.91 927.90,219.97 928.15,186.59 928.40,226.34 928.65,201.54 928.90,219.67 929.15,204.70 929.40,222.39 929.65,208.18 929.90,228.13 930.15,203.66 930.40,226.30 930.65,193.67 930.90,221.51 931.15,186.07 931.40,226.22 931.65,190.82 931.90,224.30 932.15,182.62 932.40,216.59 932.65,187.59 932.90,217.71 933.15,207.00 933.40,220.81 933.65,210.53 933.90,227.97 934.15,201.30 934.40,225.59 934.65,191.66 934.90,220.70 935.15,197.44 935.40,223.04 935.65,206.06 935.90,213.98 936.15,196.91 936.40,223.82 936.65,190.89 936.90,224.18 937.15,196.34 937.40,223.09 937.65,203.95 937.90,227.21 938.15,194.10 938.40,225.20 938.65,200.69 938.90,221.33 939.15,196.08 939.40,226.35 939.65,202.57 939.90,221.24 940.15,204.69 940.40,228.22 940.65,208.05 940.90,225.66 941.15,211.20 941.40,227.41 941.65,196.77 941.90,225.30 942.15,188.16 942.40,218.10 942.65,187.28 942.90,224.26 943.15,192.72 943.40,225.30 943.65,200.43 943.90,225.94 944.15,191.10 944.40,226.00 944.65,196.73 944.90,226.66 945.15,200.51 945.40,224.55 945.65,205.86 945.90,227.81 946.15,211.29 946.40,226.53 946.65,205.84 946.90,227.57 947.15,207.36 947.40,226.50 947.65,210.81 947.90,227.91 948.15,207.15 948.40,225.74 948.65,198.90 948.90,226.72 949.15,191.65 949.40,223.48 949.65,183.41 949.90,220.06 950.15,188.69 950.40,223.42 950.65,204.65 950.90,227.45 951.15,214.13 951.40,228.17 951.65,210.56 951.90,225.60 952.15,213.16 952.40,227.00 952.65,209.79 952.90,222.78 953.15,203.19 953.40,226.21 953.65,207.89 953.90,226.93 954.15,203.01 954.40,228.43 954.65,207.78 954.90,219.59 955.15,206.69 955.40,224.98 955.65,208.46 955.90,225.62 956.15,201.10 956.40,227.20 956.65,204.43 956.90,217.41 957.15,208.82 957.40,223.01 957.65,199.92 957.90,222.55 958.15,190.48 958.40,226.67 958.65,196.03 958.90,226.57 959.15,201.01 959.40,226.46 959.65,206.39 959.90,225.79 960.15,192.16 960.40,223.70 960.65,183.76 960.90,224.05 961.15,189.18 961.40,222.40 961.65,209.71 961.90,222.39 962.15,212.67 962.40,223.21 962.65,206.68 962.90,225.09 963.15,197.73 963.40,224.78 963.65,204.07 963.90,226.89 964.15,205.03 964.40,226.07 964.65,194.95 964.90,219.21 965.15,202.09 965.40,218.92 965.65,208.24 965.90,220.96 966.15,204.43 966.40,227.33 966.65,208.91 966.90,226.79 967.15,208.74 967.40,228.61 967.65,207.75 967.90,217.57 968.15,199.38 968.40,220.04 968.65,205.31 968.90,226.88 969.15,197.93 969.40,223.83 969.65,188.73 969.90,225.42 970.15,194.15 970.40,228.53 970.65,209.62 970.90,223.15 971.15,201.69 971.40,223.04 971.65,191.83 971.90,227.02 972.15,193.79 972.40,224.80 972.65,194.52 972.90,220.75 973.15,201.39 973.40,225.75 973.65,199.42 973.90,227.82 974.15,200.55 974.40,222.33 974.65,204.99 974.90,222.85 975.15,194.76 975.40,225.36 975.65,201.60 975.90,223.06 976.15,204.19 976.40,217.52 976.65,202.27 976.90,226.74 977.15,205.75 977.40,212.22 977.65,196.18 977.90,222.61 978.15,200.91 978.40,227.52 978.65,200.14 978.90,221.74 979.15,205.47 979.40,221.24 979.65,200.11 979.90,226.08 980.15,191.73 980.40,224.80 980.65,197.43 980.90,227.06 981.15,200.50 981.40,225.09 981.65,191.06 981.90,223.90 982.15,196.49 982.40,224.65 982.65,190.79 982.90,222.51 983.15,196.09 983.40,227.41 983.65,200.61 983.90,226.73 984.15,191.25 984.40,227.04 984.65,193.62 984.90,227.98 985.15,199.95 985.40,225.20 985.65,199.86 985.90,222.66 986.15,202.42 986.40,220.88 986.65,207.05 986.90,224.25 987.15,206.37 987.40,223.42 987.65,195.81 987.90,224.61 988.15,187.54 988.40,222.29 988.65,191.81 988.90,225.05 989.15,183.63 989.40,215.95 989.65,188.90 989.90,222.77 990.15,195.65 990.40,219.83 990.65,199.98 990.90,226.48 991.15,205.43 991.40,227.16 991.65,172.13 991.90,229.05 992.15,213.84 992.40,228.29 992.65,213.97 992.90,227.95 993.15,214.27 993.40,221.86 993.65,210.92 993.90,224.71 994.15,205.53 994.40,228.26 994.65,203.82 994.90,219.27 995.15,194.13 995.40,226.90 995.65,200.93 995.90,227.42 996.15,195.90 996.40,225.63 996.65,200.18 996.90,226.09 997.15,190.86 997.40,227.02 997.65,196.60 997.90,225.54 998.15,195.82 998.40,220.57 998.65,202.53 998.90,226.91 999.15,207.53 999.40,224.53 999.65,201.19 999.90,223.89 1000.15,206.60 1000.40,227.00 1000.65,209.76" fill="none" stroke="#0000ff" stroke-width="0.75" stroke-linejoin="round"/>
<rect x="536.4" y="164.1" width="464.5" height="66.9" fill="none" stroke="#7a7a7a" stroke-width="0.9"/>
<line x1="640.12" y1="231" x2="640.12" y2="227" stroke="#7a7a7a" stroke-width="0.8"/>
<line x1="640.12" y1="164.1" x2="640.12" y2="168.1" stroke="#7a7a7a" stroke-width="0.8"/>
<line x1="743.85" y1="231" x2="743.85" y2="227" stroke="#7a7a7a" stroke-width="0.8"/>
<line x1="743.85" y1="164.1" x2="743.85" y2="168.1" stroke="#7a7a7a" stroke-width="0.8"/>
<line x1="847.57" y1="231" x2="847.57" y2="227" stroke="#7a7a7a" stroke-width="0.8"/>
<line x1="847.57" y1="164.1" x2="847.57" y2="168.1" stroke="#7a7a7a" stroke-width="0.8"/>
<line x1="951.3" y1="231" x2="951.3" y2="227" stroke="#7a7a7a" stroke-width="0.8"/>
<line x1="951.3" y1="164.1" x2="951.3" y2="168.1" stroke="#7a7a7a" stroke-width="0.8"/>
<line x1="536.9" y1="189.4" x2="1000.4" y2="189.4" stroke="#e8141e" stroke-width="1.9" stroke-dasharray="2 2.28"/>
</g>
<g id="panel-d">
<polyline points="536.74,343.56 538.03,340.34 539.32,345.71 540.18,376.86 541.47,362.90 542.76,375.79 544.05,365.05 545.34,355.38 546.63,359.68 547.92,357.53 549.20,365.05 550.49,374.71 551.78,360.75 553.07,369.34 554.36,362.90 555.65,374.71 556.94,369.34 558.23,376.86 559.52,371.49 560.80,360.75 562.09,360.75 563.38,366.12 564.67,366.12 565.96,373.64 567.25,382.23 568.32,385.45 569.61,380.08 571.12,370.42 572.41,374.71 573.48,367.20 574.77,375.79 575.63,366.12 576.70,373.64 577.78,343.56 579.06,324.23 579.92,327.45 581.00,344.64 582.07,329.60 583.15,341.42 584.01,352.16 585.08,365.05 586.15,369.34 587.23,368.27 588.30,372.57 589.59,370.42 590.88,374.71 592.17,369.34 593.24,363.97 594.10,359.68 595.18,371.49 596.47,383.31 597.75,379.01 599.04,376.86 600.33,365.05 601.62,353.23 602.91,360.75 604.20,373.64 605.49,381.16 606.78,380.08 607.85,369.34 608.93,358.60 610.00,366.12 611.07,377.94 612.15,383.31 613.44,377.94 614.73,372.57 616.01,374.71 617.09,370.42 618.38,369.34 619.45,373.64 620.53,365.05 621.60,368.27 622.67,358.60 623.75,369.34 624.82,354.31 625.68,351.08 626.54,358.60 627.40,338.19 628.47,328.10 629.55,329.60 630.62,343.56 631.70,362.90 632.77,367.20 633.84,375.79 634.92,383.31 636.21,380.08 637.50,375.79 638.79,371.49 640.07,367.20 641.36,363.97 642.44,369.34 643.51,365.05 644.37,373.64 645.23,348.94 646.30,362.90 647.59,373.64 648.67,369.34 649.96,376.86 651.25,374.71 652.53,367.20 653.82,363.97 654.68,368.27 655.76,355.38 656.83,367.20 657.90,382.23 658.98,375.79 660.05,383.31 661.34,373.64 662.63,370.42 663.92,371.49 664.99,358.60 666.07,346.79 667.14,354.31 668.00,343.56 669.08,334.97 670.15,340.34 671.22,348.94 672.30,352.16 673.37,348.94 674.45,356.45 675.52,357.53 676.59,365.05 677.67,363.97 678.74,369.34 679.82,367.20 680.89,372.57 681.96,375.79 683.04,383.31 684.11,377.94 685.19,380.08 686.26,372.57 687.34,371.49 688.41,375.79 689.48,373.64 690.56,381.16 691.85,384.38 693.14,376.86 694.42,374.71 695.71,371.49 697.00,369.34 698.29,373.64 699.58,375.79 700.87,369.34 702.16,370.42 703.45,375.79 704.74,384.38 706.03,373.64 707.31,363.97 708.39,360.75 709.46,367.20 710.75,375.79 712.04,373.64 713.33,362.90 714.40,359.68 715.26,384.38 716.34,365.05 717.41,351.08 718.48,362.90 719.56,380.08 720.85,384.38 722.14,375.79 723.43,371.49 724.71,365.05 726.00,362.90 727.29,369.34 728.58,375.79 729.87,377.94 731.16,384.38 732.45,375.79 733.74,372.57 735.03,367.20 736.32,373.64 737.60,375.79 738.89,384.38 740.18,365.05 741.26,362.90 742.54,371.49 743.83,375.79 745.12,371.49 746.41,367.20 747.70,369.34 748.99,371.49 750.61,365.05 751.47,361.82 752.54,373.64 753.62,369.34 754.69,375.79 755.77,374.71 756.84,365.05 757.92,362.90 758.99,375.79 760.06,358.60 761.14,348.29 762.21,358.60 763.29,373.64 764.36,374.71 765.65,372.57 766.94,375.79 768.23,383.31 769.52,385.45 770.80,380.08 772.09,373.64 773.17,369.34 774.24,372.57 775.32,383.31 776.39,371.49 777.46,363.33 778.54,369.34 779.61,375.79 780.69,374.71 781.76,369.34 782.83,372.57 783.91,379.01 784.98,377.94 786.06,383.31 787.13,384.38 788.42,381.16 789.71,382.23 791.00,377.94 792.29,371.49 793.36,369.34 794.44,373.64 795.51,379.01 796.58,371.49 797.66,363.97 798.73,367.20 799.81,374.71 800.67,360.75 801.74,355.38 802.81,365.05 803.67,374.71 804.53,358.60 805.61,350.01 806.68,358.60 807.75,369.34 808.83,363.97 809.90,369.34 811.19,370.42 812.48,368.27 813.77,367.20 815.06,373.64 816.35,376.86 817.64,375.79 818.93,376.86 820.21,375.79 821.50,374.71 822.79,375.79 824.08,374.71 825.37,373.64 826.23,365.05 827.09,361.82 828.16,371.49 829.24,381.16 830.31,384.38 831.38,380.08 832.46,373.64 833.53,367.20 834.61,363.97 835.68,369.34 836.76,377.94 837.83,379.01 838.90,371.49 839.98,363.97 841.05,367.20 842.13,373.64 843.20,369.34 844.27,375.79 845.56,374.71 846.85,376.86 848.14,371.49 849.22,363.97 850.29,371.49 851.36,381.16 852.22,365.05 853.30,369.34 854.37,377.94 855.45,382.23 856.52,376.86 857.59,375.79 858.67,379.01 859.74,375.79 860.82,380.08 861.89,373.64 862.96,369.34 864.04,375.79 865.11,381.16 866.19,371.49 867.26,366.12 868.33,373.64 869.41,380.08 870.48,365.05 871.56,355.38 872.63,362.90 873.70,371.49 874.78,367.20 875.85,373.64 876.93,375.79 878.22,371.49 879.51,374.71 880.79,379.01 882.08,383.31 883.16,375.79 884.23,384.38 885.52,383.31 886.81,375.79 887.88,367.20 888.96,362.90 890.03,371.49 891.11,377.94 891.96,362.90 893.04,358.60 894.11,369.34 895.19,373.64 896.26,369.34 897.34,379.01 898.41,381.16 899.70,376.86 900.99,377.94 902.28,373.64 903.35,365.05 904.42,362.47 905.50,369.34 906.57,367.20 907.65,373.64 908.72,371.49 909.80,362.90 910.87,360.75 911.94,367.20 913.02,371.49 914.09,375.79 915.17,379.01 916.24,373.64 917.31,375.79 918.60,374.71 919.89,375.79 921.18,376.86 922.47,374.71 923.76,375.79 924.62,365.05 925.69,361.18 926.77,369.34 927.84,376.86 928.91,382.23 929.99,373.64 931.06,374.71 932.14,372.57 933.21,375.79 934.28,365.05 935.36,352.59 936.43,362.90 937.51,367.20 938.58,366.12 939.66,373.64 940.73,379.01 941.80,382.23 942.88,375.79 943.95,367.20 945.24,363.33 946.53,367.20 947.82,373.64 949.11,380.08 950.40,383.31 951.69,381.16 952.97,384.38 954.26,380.08 955.55,374.71 956.84,375.79 958.13,373.64 959.20,365.05 960.34,364.49 961.88,378.35 963.42,376.81 964.96,379.89 966.49,375.27 968.03,364.49 969.57,356.79 971.11,353.72 972.65,364.49 974.19,379.89 975.73,370.65 977.27,361.41 978.81,369.11 980.35,372.19 981.89,364.49 983.43,362.03 984.97,369.11 986.51,373.73 988.05,371.27 989.59,373.73 991.13,372.19 992.66,375.27 994.20,370.65 995.74,376.81 997.28,382.96 998.82,364.49 1000.36,358.33 1001.29,370.65" fill="none" stroke="#4444e8" stroke-width="0.9" stroke-linejoin="round"/>
<rect x="536.4" y="303.3" width="464.5" height="83.2" fill="none" stroke="#7a7a7a" stroke-width="0.9"/>
<line x1="652.52" y1="386.5" x2="652.52" y2="382.5" stroke="#7a7a7a" stroke-width="0.8"/>
<line x1="652.52" y1="303.3" x2="652.52" y2="307.3" stroke="#7a7a7a" stroke-width="0.8"/>
<line x1="768.65" y1="386.5" x2="768.65" y2="382.5" stroke="#7a7a7a" stroke-width="0.8"/>
<line x1="768.65" y1="303.3" x2="768.65" y2="307.3" stroke="#7a7a7a" stroke-width="0.8"/>
<line x1="884.77" y1="386.5" x2="884.77" y2="382.5" stroke="#7a7a7a" stroke-width="0.8"/>
<line x1="884.77" y1="303.3" x2="884.77" y2="307.3" stroke="#7a7a7a" stroke-width="0.8"/>
<line x1="995.9" y1="344.6" x2="1000.9" y2="344.6" stroke="#7a7a7a" stroke-width="0.8"/>
<line x1="536.4" y1="344.6" x2="540.4" y2="344.6" stroke="#7a7a7a" stroke-width="0.8"/>
<g fill="#ee1c25" stroke="none"><rect x="718.2" y="329.5" width="1.5" height="16.5"/><path d="M714.5 344.3 L721.9 344.3 L718.3 351.2 Z"/></g>
<text x="713.2" y="326" font-family='"Liberation Serif", "DejaVu Serif", serif' font-size="17.5" font-style="italic" font-weight="bold" fill="#ee1c25">f<tspan font-style="normal" font-size="12.5" dy="1.9" dx="0.4">o</tspan></text>
</g>
<g font-family='"Liberation Serif", "DejaVu Serif", serif' font-size="16.2" fill="#383838">
<text x="780.5" y="12.8" text-anchor="middle">Original signal</text>
<text x="565.3" y="158" xml:space="preserve">Envelope of filtered signal, Bw=Fs/2<tspan dx="-3.4">,</tspan> fc=10000Hz, Kurt=0.5,=.1%</text>
<text x="801.3" y="296.6" text-anchor="middle">Amplitude spectrum of the squared envelope</text>
<g text-anchor="end">
<text x="532.6" y="27.8">2</text><text x="532.6" y="63.2">0</text><text x="532.6" y="98.6">-2</text>
<text x="532.8" y="238.2">0</text>
<text x="532.6" y="311.3">1</text><text x="533" y="352.1">0.5</text><text x="532.8" y="393.6">0</text>
</g>
<text x="508" y="170.5" font-size="12.6">0.05</text>
<g text-anchor="middle">
<text x="539.7" y="114.6">0</text>
<text x="539.7" y="254.5">0</text>
<text x="643.42" y="114.6">0.5</text>
<text x="643.42" y="254.5">0.5</text>
<text x="747.15" y="114.6">1</text>
<text x="747.15" y="254.5">1</text>
<text x="850.87" y="114.6">1.5</text>
<text x="850.87" y="254.5">1.5</text>
<text x="954.6" y="114.6">2</text>
<text x="954.6" y="254.5">2</text>
<text x="539.7" y="409.9">0</text>
<text x="655.82" y="409.9">50</text>
<text x="771.95" y="409.9">100</text>
<text x="888.07" y="409.9">150</text>
<text x="1004.2" y="409.9">200</text>
<text x="779.6" y="130.7">Time (s)</text>
<text x="779.6" y="270.3">Time (s)</text>
</g>
<text x="536.6" y="299.4" xml:space="preserve"><tspan font-size="20.5" dy="2">×</tspan><tspan dx="7.2" dy="-2">10</tspan><tspan font-size="14.6" dy="-5.3" dx="-0.4">-5</tspan></text>
<g font-weight="bold" fill="#111"><text x="1003" y="63">(b)</text><text x="1003" y="202.8">(c)</text><text x="1002.6" y="348.3">(d)</text></g>
</g>
</g>
</svg>
</body></html>
